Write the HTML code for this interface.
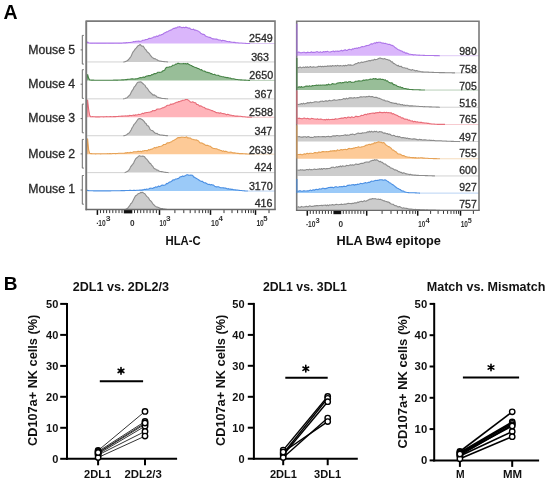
<!DOCTYPE html>
<html><head><meta charset="utf-8"><title>Figure</title>
<style>
html,body{margin:0;padding:0;background:#fff;}
body{width:550px;height:483px;overflow:hidden;font-family:"Liberation Sans", sans-serif;}
svg text{font-family:"Liberation Sans", sans-serif;}
</style></head><body>
<svg width="550" height="483" viewBox="0 0 550 483" style="display:block;filter:blur(0.3px)">
<rect width="550" height="483" fill="#fff"/>
<text x="3.6" y="19.4" font-family='Liberation Sans' font-weight="bold" font-size="19.5" fill="#000">A</text>
<path d="M86.6,43.50 L86.6,43.50 87.6,42.00 88.6,42.90 89.6,42.98 90.6,43.09 91.6,43.04 92.6,43.09 93.6,43.14 94.6,43.09 95.6,43.16 96.6,43.11 97.6,43.11 98.6,43.11 99.6,43.11 100.6,43.11 101.6,43.11 102.6,43.11 103.6,43.10 104.6,43.10 105.6,43.11 106.6,43.16 107.6,43.15 108.6,43.11 109.6,43.06 110.6,43.10 111.6,43.11 112.6,43.12 113.6,43.12 114.6,43.13 115.6,43.14 116.6,43.14 117.6,43.13 118.6,43.12 119.6,43.11 120.6,43.14 121.6,43.10 122.6,43.00 123.6,42.90 124.6,42.91 125.6,42.87 126.6,42.65 127.6,42.79 128.6,42.43 129.6,42.47 130.6,42.39 131.6,42.25 132.6,42.00 133.6,41.55 134.6,41.79 135.6,41.40 136.6,41.23 137.6,41.31 138.6,41.06 139.6,41.33 140.6,41.21 141.6,40.92 142.6,40.25 143.6,40.27 144.6,40.14 145.6,39.60 146.6,39.45 147.6,39.33 148.6,38.55 149.6,38.36 150.6,38.54 151.6,37.92 152.6,37.68 153.6,37.04 154.6,36.87 155.6,36.99 156.6,35.95 157.6,36.45 158.6,35.77 159.6,35.04 160.6,35.23 161.6,34.48 162.6,34.50 163.6,33.43 164.6,32.87 165.6,32.58 166.6,31.77 167.6,31.82 168.6,30.94 169.6,30.56 170.6,30.11 171.6,29.77 172.6,28.93 173.6,28.38 174.6,28.42 175.6,27.81 176.6,27.98 177.6,27.00 178.6,26.94 179.6,26.65 180.6,26.97 181.6,27.66 182.6,27.61 183.6,27.23 184.6,27.70 185.6,27.11 186.6,27.39 187.6,27.67 188.6,28.15 189.6,27.96 190.6,29.09 191.6,29.35 192.6,29.43 193.6,29.12 194.6,30.11 195.6,30.05 196.6,30.43 197.6,30.69 198.6,31.39 199.6,31.96 200.6,33.16 201.6,33.66 202.6,34.33 203.6,34.36 204.6,34.79 205.6,36.06 206.6,36.48 207.6,36.84 208.6,37.23 209.6,37.35 210.6,37.60 211.6,38.25 212.6,38.83 213.6,38.72 214.6,39.05 215.6,39.13 216.6,39.00 217.6,39.50 218.6,39.89 219.6,40.00 220.6,40.13 221.6,40.93 222.6,40.27 223.6,40.57 224.6,40.67 225.6,40.90 226.6,41.36 227.6,41.48 228.6,41.80 229.6,41.59 230.6,42.04 231.6,42.15 232.6,42.20 233.6,42.34 234.6,42.39 235.6,42.61 236.6,42.73 237.6,42.79 238.6,42.89 239.6,42.93 240.6,43.07 241.6,43.03 242.6,43.17 243.6,43.24 244.6,43.32 245.6,43.38 246.6,43.43 247.6,43.46 248.6,43.48 249.6,43.49 250.0,43.50 L250.0,43.50 Z" fill="#dab6fb" stroke="none"/>
<polyline points="86.6,43.50 87.6,42.00 88.6,42.90 89.6,42.98 90.6,43.09 91.6,43.04 92.6,43.09 93.6,43.14 94.6,43.09 95.6,43.16 96.6,43.11 97.6,43.11 98.6,43.11 99.6,43.11 100.6,43.11 101.6,43.11 102.6,43.11 103.6,43.10 104.6,43.10 105.6,43.11 106.6,43.16 107.6,43.15 108.6,43.11 109.6,43.06 110.6,43.10 111.6,43.11 112.6,43.12 113.6,43.12 114.6,43.13 115.6,43.14 116.6,43.14 117.6,43.13 118.6,43.12 119.6,43.11 120.6,43.14 121.6,43.10 122.6,43.00 123.6,42.90 124.6,42.91 125.6,42.87 126.6,42.65 127.6,42.79 128.6,42.43 129.6,42.47 130.6,42.39 131.6,42.25 132.6,42.00 133.6,41.55 134.6,41.79 135.6,41.40 136.6,41.23 137.6,41.31 138.6,41.06 139.6,41.33 140.6,41.21 141.6,40.92 142.6,40.25 143.6,40.27 144.6,40.14 145.6,39.60 146.6,39.45 147.6,39.33 148.6,38.55 149.6,38.36 150.6,38.54 151.6,37.92 152.6,37.68 153.6,37.04 154.6,36.87 155.6,36.99 156.6,35.95 157.6,36.45 158.6,35.77 159.6,35.04 160.6,35.23 161.6,34.48 162.6,34.50 163.6,33.43 164.6,32.87 165.6,32.58 166.6,31.77 167.6,31.82 168.6,30.94 169.6,30.56 170.6,30.11 171.6,29.77 172.6,28.93 173.6,28.38 174.6,28.42 175.6,27.81 176.6,27.98 177.6,27.00 178.6,26.94 179.6,26.65 180.6,26.97 181.6,27.66 182.6,27.61 183.6,27.23 184.6,27.70 185.6,27.11 186.6,27.39 187.6,27.67 188.6,28.15 189.6,27.96 190.6,29.09 191.6,29.35 192.6,29.43 193.6,29.12 194.6,30.11 195.6,30.05 196.6,30.43 197.6,30.69 198.6,31.39 199.6,31.96 200.6,33.16 201.6,33.66 202.6,34.33 203.6,34.36 204.6,34.79 205.6,36.06 206.6,36.48 207.6,36.84 208.6,37.23 209.6,37.35 210.6,37.60 211.6,38.25 212.6,38.83 213.6,38.72 214.6,39.05 215.6,39.13 216.6,39.00 217.6,39.50 218.6,39.89 219.6,40.00 220.6,40.13 221.6,40.93 222.6,40.27 223.6,40.57 224.6,40.67 225.6,40.90 226.6,41.36 227.6,41.48 228.6,41.80 229.6,41.59 230.6,42.04 231.6,42.15 232.6,42.20 233.6,42.34 234.6,42.39 235.6,42.61 236.6,42.73 237.6,42.79 238.6,42.89 239.6,42.93 240.6,43.07 241.6,43.03 242.6,43.17 243.6,43.24 244.6,43.32 245.6,43.38 246.6,43.43 247.6,43.46 248.6,43.48 249.6,43.49 250.0,43.50" fill="none" stroke="#a66ae6" stroke-width="1.1" stroke-linejoin="round" opacity="0.9"/>
<line x1="250.0" y1="43.50" x2="275.0" y2="43.50" stroke="#a66ae6" stroke-width="0.8" opacity="0.45"/>
<path d="M123.1,61.94 L123.1,61.94 124.1,61.89 125.1,61.68 126.1,61.23 127.1,60.80 128.1,60.00 129.1,58.94 130.1,57.60 131.1,56.28 132.1,53.84 133.1,51.82 134.1,50.67 135.1,49.13 136.1,48.16 137.1,46.91 138.1,45.73 139.1,45.24 140.1,44.52 141.1,45.47 142.1,46.21 143.1,46.09 144.1,47.55 145.1,49.10 146.1,50.02 147.1,51.81 148.1,52.53 149.1,53.32 150.1,54.81 151.1,56.15 152.1,57.39 153.1,57.93 154.1,58.70 155.1,58.67 156.1,59.43 157.1,59.74 158.1,60.44 159.1,60.84 160.1,60.95 161.1,61.18 162.1,61.39 163.1,61.56 164.1,61.64 165.1,61.73 166.1,61.81 167.1,61.88 168.1,61.94 L168.1,61.94 Z" fill="#cccccc" stroke="none"/>
<polyline points="123.1,61.94 124.1,61.89 125.1,61.68 126.1,61.23 127.1,60.80 128.1,60.00 129.1,58.94 130.1,57.60 131.1,56.28 132.1,53.84 133.1,51.82 134.1,50.67 135.1,49.13 136.1,48.16 137.1,46.91 138.1,45.73 139.1,45.24 140.1,44.52 141.1,45.47 142.1,46.21 143.1,46.09 144.1,47.55 145.1,49.10 146.1,50.02 147.1,51.81 148.1,52.53 149.1,53.32 150.1,54.81 151.1,56.15 152.1,57.39 153.1,57.93 154.1,58.70 155.1,58.67 156.1,59.43 157.1,59.74 158.1,60.44 159.1,60.84 160.1,60.95 161.1,61.18 162.1,61.39 163.1,61.56 164.1,61.64 165.1,61.73 166.1,61.81 167.1,61.88 168.1,61.94" fill="none" stroke="#828282" stroke-width="1.1" stroke-linejoin="round" opacity="0.9"/>
<line x1="87.3" y1="61.94" x2="123.1" y2="61.94" stroke="#828282" stroke-width="0.8" opacity="0.45"/>
<line x1="168.1" y1="61.94" x2="275.0" y2="61.94" stroke="#828282" stroke-width="0.8" opacity="0.45"/>
<path d="M86.6,80.39 L86.6,80.39 87.6,74.47 88.6,78.12 89.6,79.84 90.6,80.02 91.6,80.08 92.6,80.12 93.6,80.15 94.6,80.18 95.6,80.20 96.6,80.22 97.6,80.23 98.6,80.23 99.6,80.23 100.6,80.23 101.6,80.23 102.6,80.22 103.6,80.22 104.6,80.21 105.6,80.20 106.6,80.19 107.6,80.19 108.6,80.19 109.6,80.19 110.6,80.19 111.6,80.19 112.6,80.18 113.6,80.17 114.6,80.16 115.6,80.14 116.6,80.11 117.6,80.08 118.6,80.04 119.6,79.99 120.6,79.98 121.6,79.88 122.6,79.84 123.6,79.85 124.6,79.79 125.6,79.67 126.6,79.61 127.6,79.40 128.6,79.23 129.6,79.32 130.6,79.03 131.6,78.90 132.6,78.80 133.6,78.97 134.6,78.95 135.6,78.84 136.6,78.75 137.6,78.62 138.6,78.19 139.6,77.79 140.6,77.62 141.6,77.70 142.6,77.31 143.6,76.92 144.6,77.38 145.6,76.54 146.6,76.03 147.6,75.88 148.6,75.62 149.6,75.59 150.6,75.58 151.6,74.66 152.6,74.79 153.6,73.99 154.6,73.46 155.6,73.66 156.6,73.27 157.6,72.33 158.6,72.18 159.6,72.39 160.6,72.20 161.6,72.00 162.6,71.00 163.6,70.62 164.6,70.17 165.6,68.21 166.6,67.35 167.6,67.22 168.6,67.20 169.6,66.68 170.6,66.74 171.6,66.51 172.6,65.21 173.6,65.18 174.6,64.92 175.6,64.07 176.6,64.16 177.6,63.42 178.6,63.30 179.6,63.82 180.6,63.74 181.6,63.70 182.6,63.75 183.6,63.40 184.6,63.74 185.6,63.62 186.6,63.99 187.6,63.35 188.6,64.22 189.6,64.70 190.6,65.16 191.6,65.47 192.6,66.57 193.6,66.57 194.6,67.32 195.6,67.53 196.6,67.75 197.6,68.53 198.6,68.50 199.6,69.22 200.6,69.89 201.6,69.61 202.6,70.75 203.6,70.93 204.6,71.10 205.6,71.65 206.6,72.23 207.6,72.36 208.6,72.63 209.6,72.71 210.6,73.69 211.6,73.56 212.6,74.20 213.6,74.50 214.6,74.33 215.6,74.92 216.6,75.18 217.6,75.28 218.6,75.40 219.6,76.13 220.6,76.20 221.6,76.53 222.6,76.73 223.6,76.76 224.6,77.21 225.6,77.33 226.6,77.60 227.6,77.42 228.6,77.86 229.6,77.97 230.6,78.16 231.6,78.78 232.6,78.79 233.6,78.78 234.6,78.99 235.6,79.41 236.6,79.52 237.6,79.53 238.6,79.73 239.6,79.78 240.6,79.90 241.6,79.88 242.6,79.94 243.6,80.05 244.6,80.11 245.6,80.17 246.6,80.23 247.6,80.29 248.6,80.34 249.6,80.37 250.0,80.39 L250.0,80.39 Z" fill="#98be98" stroke="none"/>
<polyline points="86.6,80.39 87.6,74.47 88.6,78.12 89.6,79.84 90.6,80.02 91.6,80.08 92.6,80.12 93.6,80.15 94.6,80.18 95.6,80.20 96.6,80.22 97.6,80.23 98.6,80.23 99.6,80.23 100.6,80.23 101.6,80.23 102.6,80.22 103.6,80.22 104.6,80.21 105.6,80.20 106.6,80.19 107.6,80.19 108.6,80.19 109.6,80.19 110.6,80.19 111.6,80.19 112.6,80.18 113.6,80.17 114.6,80.16 115.6,80.14 116.6,80.11 117.6,80.08 118.6,80.04 119.6,79.99 120.6,79.98 121.6,79.88 122.6,79.84 123.6,79.85 124.6,79.79 125.6,79.67 126.6,79.61 127.6,79.40 128.6,79.23 129.6,79.32 130.6,79.03 131.6,78.90 132.6,78.80 133.6,78.97 134.6,78.95 135.6,78.84 136.6,78.75 137.6,78.62 138.6,78.19 139.6,77.79 140.6,77.62 141.6,77.70 142.6,77.31 143.6,76.92 144.6,77.38 145.6,76.54 146.6,76.03 147.6,75.88 148.6,75.62 149.6,75.59 150.6,75.58 151.6,74.66 152.6,74.79 153.6,73.99 154.6,73.46 155.6,73.66 156.6,73.27 157.6,72.33 158.6,72.18 159.6,72.39 160.6,72.20 161.6,72.00 162.6,71.00 163.6,70.62 164.6,70.17 165.6,68.21 166.6,67.35 167.6,67.22 168.6,67.20 169.6,66.68 170.6,66.74 171.6,66.51 172.6,65.21 173.6,65.18 174.6,64.92 175.6,64.07 176.6,64.16 177.6,63.42 178.6,63.30 179.6,63.82 180.6,63.74 181.6,63.70 182.6,63.75 183.6,63.40 184.6,63.74 185.6,63.62 186.6,63.99 187.6,63.35 188.6,64.22 189.6,64.70 190.6,65.16 191.6,65.47 192.6,66.57 193.6,66.57 194.6,67.32 195.6,67.53 196.6,67.75 197.6,68.53 198.6,68.50 199.6,69.22 200.6,69.89 201.6,69.61 202.6,70.75 203.6,70.93 204.6,71.10 205.6,71.65 206.6,72.23 207.6,72.36 208.6,72.63 209.6,72.71 210.6,73.69 211.6,73.56 212.6,74.20 213.6,74.50 214.6,74.33 215.6,74.92 216.6,75.18 217.6,75.28 218.6,75.40 219.6,76.13 220.6,76.20 221.6,76.53 222.6,76.73 223.6,76.76 224.6,77.21 225.6,77.33 226.6,77.60 227.6,77.42 228.6,77.86 229.6,77.97 230.6,78.16 231.6,78.78 232.6,78.79 233.6,78.78 234.6,78.99 235.6,79.41 236.6,79.52 237.6,79.53 238.6,79.73 239.6,79.78 240.6,79.90 241.6,79.88 242.6,79.94 243.6,80.05 244.6,80.11 245.6,80.17 246.6,80.23 247.6,80.29 248.6,80.34 249.6,80.37 250.0,80.39" fill="none" stroke="#3a7a3a" stroke-width="1.1" stroke-linejoin="round" opacity="0.9"/>
<line x1="250.0" y1="80.39" x2="275.0" y2="80.39" stroke="#3a7a3a" stroke-width="0.8" opacity="0.45"/>
<path d="M123.1,98.83 L123.1,98.83 124.1,98.78 125.1,98.57 126.1,98.05 127.1,97.68 128.1,96.56 129.1,95.51 130.1,94.71 131.1,92.41 132.1,90.61 133.1,89.49 134.1,87.07 135.1,86.10 136.1,84.65 137.1,82.91 138.1,82.13 139.1,82.23 140.1,81.80 141.1,82.00 142.1,82.78 143.1,83.73 144.1,84.65 145.1,85.41 146.1,87.43 147.1,88.18 148.1,89.51 149.1,91.17 150.1,92.23 151.1,93.11 152.1,94.02 153.1,95.12 154.1,94.77 155.1,95.54 156.1,95.96 157.1,97.08 158.1,97.36 159.1,97.80 160.1,97.85 161.1,98.22 162.1,98.40 163.1,98.44 164.1,98.53 165.1,98.61 166.1,98.70 167.1,98.77 168.1,98.83 L168.1,98.83 Z" fill="#cccccc" stroke="none"/>
<polyline points="123.1,98.83 124.1,98.78 125.1,98.57 126.1,98.05 127.1,97.68 128.1,96.56 129.1,95.51 130.1,94.71 131.1,92.41 132.1,90.61 133.1,89.49 134.1,87.07 135.1,86.10 136.1,84.65 137.1,82.91 138.1,82.13 139.1,82.23 140.1,81.80 141.1,82.00 142.1,82.78 143.1,83.73 144.1,84.65 145.1,85.41 146.1,87.43 147.1,88.18 148.1,89.51 149.1,91.17 150.1,92.23 151.1,93.11 152.1,94.02 153.1,95.12 154.1,94.77 155.1,95.54 156.1,95.96 157.1,97.08 158.1,97.36 159.1,97.80 160.1,97.85 161.1,98.22 162.1,98.40 163.1,98.44 164.1,98.53 165.1,98.61 166.1,98.70 167.1,98.77 168.1,98.83" fill="none" stroke="#828282" stroke-width="1.1" stroke-linejoin="round" opacity="0.9"/>
<line x1="87.3" y1="98.83" x2="123.1" y2="98.83" stroke="#828282" stroke-width="0.8" opacity="0.45"/>
<line x1="168.1" y1="98.83" x2="275.0" y2="98.83" stroke="#828282" stroke-width="0.8" opacity="0.45"/>
<path d="M86.6,117.28 L86.6,117.28 87.6,100.09 88.6,109.07 89.6,115.01 90.6,116.70 91.6,116.77 92.6,116.66 93.6,116.76 94.6,116.76 95.6,116.87 96.6,116.88 97.6,116.79 98.6,116.83 99.6,116.88 100.6,116.74 101.6,116.78 102.6,116.74 103.6,116.84 104.6,116.70 105.6,116.82 106.6,116.66 107.6,116.72 108.6,116.73 109.6,116.67 110.6,116.58 111.6,116.69 112.6,116.69 113.6,116.56 114.6,116.59 115.6,116.58 116.6,116.51 117.6,116.50 118.6,116.40 119.6,116.30 120.6,116.23 121.6,115.99 122.6,116.10 123.6,115.94 124.6,116.02 125.6,115.88 126.6,115.99 127.6,115.81 128.6,115.89 129.6,115.42 130.6,115.45 131.6,115.59 132.6,115.33 133.6,114.93 134.6,115.42 135.6,114.81 136.6,115.00 137.6,114.82 138.6,114.37 139.6,114.58 140.6,114.26 141.6,113.83 142.6,113.27 143.6,113.63 144.6,112.86 145.6,112.70 146.6,112.49 147.6,112.44 148.6,112.21 149.6,112.21 150.6,111.84 151.6,111.60 152.6,110.63 153.6,110.82 154.6,110.62 155.6,110.41 156.6,109.37 157.6,109.05 158.6,108.95 159.6,109.03 160.6,108.74 161.6,108.33 162.6,107.79 163.6,107.69 164.6,107.00 165.6,106.77 166.6,105.66 167.6,105.24 168.6,105.27 169.6,105.19 170.6,104.08 171.6,104.35 172.6,103.92 173.6,103.89 174.6,103.13 175.6,102.67 176.6,102.26 177.6,102.19 178.6,101.50 179.6,101.63 180.6,101.02 181.6,100.84 182.6,100.21 183.6,100.25 184.6,99.97 185.6,99.50 186.6,99.57 187.6,99.66 188.6,100.42 189.6,101.18 190.6,102.13 191.6,102.21 192.6,101.80 193.6,102.26 194.6,102.78 195.6,102.78 196.6,104.35 197.6,104.46 198.6,105.09 199.6,106.18 200.6,105.84 201.6,106.22 202.6,106.90 203.6,107.22 204.6,107.57 205.6,108.67 206.6,108.72 207.6,109.17 208.6,109.25 209.6,109.68 210.6,110.04 211.6,110.63 212.6,110.65 213.6,111.17 214.6,111.46 215.6,112.20 216.6,112.66 217.6,112.82 218.6,112.84 219.6,113.33 220.6,112.83 221.6,113.31 222.6,113.44 223.6,113.64 224.6,113.78 225.6,114.17 226.6,114.84 227.6,114.30 228.6,114.56 229.6,114.97 230.6,115.14 231.6,115.25 232.6,115.77 233.6,115.54 234.6,115.92 235.6,116.10 236.6,116.11 237.6,116.03 238.6,116.32 239.6,116.23 240.6,116.27 241.6,116.52 242.6,116.64 243.6,116.73 244.6,116.79 245.6,116.92 246.6,117.00 247.6,117.09 248.6,117.15 249.6,117.19 250.6,117.23 251.6,117.26 252.0,117.28 L252.0,117.28 Z" fill="#ffb4ba" stroke="none"/>
<polyline points="86.6,117.28 87.6,100.09 88.6,109.07 89.6,115.01 90.6,116.70 91.6,116.77 92.6,116.66 93.6,116.76 94.6,116.76 95.6,116.87 96.6,116.88 97.6,116.79 98.6,116.83 99.6,116.88 100.6,116.74 101.6,116.78 102.6,116.74 103.6,116.84 104.6,116.70 105.6,116.82 106.6,116.66 107.6,116.72 108.6,116.73 109.6,116.67 110.6,116.58 111.6,116.69 112.6,116.69 113.6,116.56 114.6,116.59 115.6,116.58 116.6,116.51 117.6,116.50 118.6,116.40 119.6,116.30 120.6,116.23 121.6,115.99 122.6,116.10 123.6,115.94 124.6,116.02 125.6,115.88 126.6,115.99 127.6,115.81 128.6,115.89 129.6,115.42 130.6,115.45 131.6,115.59 132.6,115.33 133.6,114.93 134.6,115.42 135.6,114.81 136.6,115.00 137.6,114.82 138.6,114.37 139.6,114.58 140.6,114.26 141.6,113.83 142.6,113.27 143.6,113.63 144.6,112.86 145.6,112.70 146.6,112.49 147.6,112.44 148.6,112.21 149.6,112.21 150.6,111.84 151.6,111.60 152.6,110.63 153.6,110.82 154.6,110.62 155.6,110.41 156.6,109.37 157.6,109.05 158.6,108.95 159.6,109.03 160.6,108.74 161.6,108.33 162.6,107.79 163.6,107.69 164.6,107.00 165.6,106.77 166.6,105.66 167.6,105.24 168.6,105.27 169.6,105.19 170.6,104.08 171.6,104.35 172.6,103.92 173.6,103.89 174.6,103.13 175.6,102.67 176.6,102.26 177.6,102.19 178.6,101.50 179.6,101.63 180.6,101.02 181.6,100.84 182.6,100.21 183.6,100.25 184.6,99.97 185.6,99.50 186.6,99.57 187.6,99.66 188.6,100.42 189.6,101.18 190.6,102.13 191.6,102.21 192.6,101.80 193.6,102.26 194.6,102.78 195.6,102.78 196.6,104.35 197.6,104.46 198.6,105.09 199.6,106.18 200.6,105.84 201.6,106.22 202.6,106.90 203.6,107.22 204.6,107.57 205.6,108.67 206.6,108.72 207.6,109.17 208.6,109.25 209.6,109.68 210.6,110.04 211.6,110.63 212.6,110.65 213.6,111.17 214.6,111.46 215.6,112.20 216.6,112.66 217.6,112.82 218.6,112.84 219.6,113.33 220.6,112.83 221.6,113.31 222.6,113.44 223.6,113.64 224.6,113.78 225.6,114.17 226.6,114.84 227.6,114.30 228.6,114.56 229.6,114.97 230.6,115.14 231.6,115.25 232.6,115.77 233.6,115.54 234.6,115.92 235.6,116.10 236.6,116.11 237.6,116.03 238.6,116.32 239.6,116.23 240.6,116.27 241.6,116.52 242.6,116.64 243.6,116.73 244.6,116.79 245.6,116.92 246.6,117.00 247.6,117.09 248.6,117.15 249.6,117.19 250.6,117.23 251.6,117.26 252.0,117.28" fill="none" stroke="#e4606e" stroke-width="1.1" stroke-linejoin="round" opacity="0.9"/>
<line x1="252.0" y1="117.28" x2="275.0" y2="117.28" stroke="#e4606e" stroke-width="0.8" opacity="0.45"/>
<path d="M123.1,135.72 L123.1,135.72 124.1,135.66 125.1,135.45 126.1,134.97 127.1,134.37 128.1,133.50 129.1,132.98 130.1,131.59 131.1,129.92 132.1,127.72 133.1,126.29 134.1,124.34 135.1,123.38 136.1,121.97 137.1,120.52 138.1,119.18 139.1,118.59 140.1,118.45 141.1,119.12 142.1,119.49 143.1,120.35 144.1,121.39 145.1,122.91 146.1,123.45 147.1,125.42 148.1,125.86 149.1,127.14 150.1,129.43 151.1,130.16 152.1,130.60 153.1,131.10 154.1,132.20 155.1,132.95 156.1,133.48 157.1,133.41 158.1,134.28 159.1,134.47 160.1,134.93 161.1,135.06 162.1,135.15 163.1,135.33 164.1,135.42 165.1,135.50 166.1,135.59 167.1,135.66 168.1,135.72 L168.1,135.72 Z" fill="#cccccc" stroke="none"/>
<polyline points="123.1,135.72 124.1,135.66 125.1,135.45 126.1,134.97 127.1,134.37 128.1,133.50 129.1,132.98 130.1,131.59 131.1,129.92 132.1,127.72 133.1,126.29 134.1,124.34 135.1,123.38 136.1,121.97 137.1,120.52 138.1,119.18 139.1,118.59 140.1,118.45 141.1,119.12 142.1,119.49 143.1,120.35 144.1,121.39 145.1,122.91 146.1,123.45 147.1,125.42 148.1,125.86 149.1,127.14 150.1,129.43 151.1,130.16 152.1,130.60 153.1,131.10 154.1,132.20 155.1,132.95 156.1,133.48 157.1,133.41 158.1,134.28 159.1,134.47 160.1,134.93 161.1,135.06 162.1,135.15 163.1,135.33 164.1,135.42 165.1,135.50 166.1,135.59 167.1,135.66 168.1,135.72" fill="none" stroke="#828282" stroke-width="1.1" stroke-linejoin="round" opacity="0.9"/>
<line x1="87.3" y1="135.72" x2="123.1" y2="135.72" stroke="#828282" stroke-width="0.8" opacity="0.45"/>
<line x1="168.1" y1="135.72" x2="275.0" y2="135.72" stroke="#828282" stroke-width="0.8" opacity="0.45"/>
<path d="M86.6,154.17 L86.6,154.17 87.6,138.72 88.6,149.56 89.6,153.13 90.6,153.61 91.6,153.65 92.6,153.75 93.6,153.68 94.6,153.75 95.6,153.83 96.6,153.77 97.6,153.77 98.6,153.77 99.6,153.77 100.6,153.83 101.6,153.76 102.6,153.75 103.6,153.77 104.6,153.78 105.6,153.74 106.6,153.73 107.6,153.64 108.6,153.76 109.6,153.63 110.6,153.60 111.6,153.71 112.6,153.55 113.6,153.57 114.6,153.50 115.6,153.58 116.6,153.53 117.6,153.48 118.6,153.27 119.6,153.31 120.6,153.31 121.6,153.22 122.6,153.20 123.6,153.21 124.6,153.12 125.6,152.73 126.6,152.88 127.6,152.47 128.6,152.72 129.6,152.62 130.6,152.38 131.6,152.48 132.6,152.28 133.6,151.79 134.6,151.74 135.6,151.70 136.6,151.73 137.6,151.40 138.6,151.25 139.6,151.46 140.6,151.18 141.6,151.70 142.6,150.89 143.6,151.03 144.6,150.57 145.6,150.49 146.6,150.64 147.6,150.63 148.6,149.49 149.6,150.00 150.6,149.35 151.6,149.16 152.6,148.89 153.6,148.13 154.6,147.57 155.6,147.96 156.6,147.23 157.6,147.24 158.6,146.64 159.6,146.45 160.6,146.31 161.6,145.95 162.6,145.53 163.6,144.46 164.6,144.48 165.6,144.36 166.6,143.26 167.6,142.74 168.6,142.83 169.6,142.64 170.6,142.07 171.6,141.63 172.6,140.83 173.6,140.54 174.6,139.87 175.6,139.36 176.6,138.57 177.6,137.80 178.6,137.55 179.6,137.60 180.6,137.41 181.6,137.17 182.6,137.23 183.6,137.24 184.6,137.53 185.6,137.39 186.6,136.85 187.6,137.94 188.6,137.86 189.6,138.06 190.6,138.14 191.6,139.08 192.6,139.29 193.6,139.59 194.6,139.74 195.6,140.03 196.6,139.91 197.6,140.49 198.6,141.01 199.6,142.45 200.6,143.02 201.6,142.91 202.6,143.22 203.6,144.09 204.6,144.39 205.6,145.38 206.6,145.38 207.6,145.22 208.6,145.71 209.6,146.07 210.6,146.36 211.6,147.50 212.6,148.06 213.6,148.43 214.6,148.47 215.6,148.69 216.6,148.79 217.6,149.34 218.6,149.72 219.6,149.88 220.6,150.46 221.6,150.61 222.6,151.36 223.6,150.84 224.6,151.58 225.6,151.14 226.6,151.56 227.6,151.98 228.6,152.24 229.6,152.27 230.6,152.15 231.6,152.26 232.6,152.75 233.6,152.91 234.6,152.86 235.6,153.00 236.6,153.22 237.6,153.40 238.6,153.42 239.6,153.64 240.6,153.65 241.6,153.67 242.6,153.64 243.6,153.73 244.6,153.79 245.6,153.84 246.6,153.91 247.6,153.98 248.6,154.06 249.6,154.14 250.0,154.17 L250.0,154.17 Z" fill="#fdca97" stroke="none"/>
<polyline points="86.6,154.17 87.6,138.72 88.6,149.56 89.6,153.13 90.6,153.61 91.6,153.65 92.6,153.75 93.6,153.68 94.6,153.75 95.6,153.83 96.6,153.77 97.6,153.77 98.6,153.77 99.6,153.77 100.6,153.83 101.6,153.76 102.6,153.75 103.6,153.77 104.6,153.78 105.6,153.74 106.6,153.73 107.6,153.64 108.6,153.76 109.6,153.63 110.6,153.60 111.6,153.71 112.6,153.55 113.6,153.57 114.6,153.50 115.6,153.58 116.6,153.53 117.6,153.48 118.6,153.27 119.6,153.31 120.6,153.31 121.6,153.22 122.6,153.20 123.6,153.21 124.6,153.12 125.6,152.73 126.6,152.88 127.6,152.47 128.6,152.72 129.6,152.62 130.6,152.38 131.6,152.48 132.6,152.28 133.6,151.79 134.6,151.74 135.6,151.70 136.6,151.73 137.6,151.40 138.6,151.25 139.6,151.46 140.6,151.18 141.6,151.70 142.6,150.89 143.6,151.03 144.6,150.57 145.6,150.49 146.6,150.64 147.6,150.63 148.6,149.49 149.6,150.00 150.6,149.35 151.6,149.16 152.6,148.89 153.6,148.13 154.6,147.57 155.6,147.96 156.6,147.23 157.6,147.24 158.6,146.64 159.6,146.45 160.6,146.31 161.6,145.95 162.6,145.53 163.6,144.46 164.6,144.48 165.6,144.36 166.6,143.26 167.6,142.74 168.6,142.83 169.6,142.64 170.6,142.07 171.6,141.63 172.6,140.83 173.6,140.54 174.6,139.87 175.6,139.36 176.6,138.57 177.6,137.80 178.6,137.55 179.6,137.60 180.6,137.41 181.6,137.17 182.6,137.23 183.6,137.24 184.6,137.53 185.6,137.39 186.6,136.85 187.6,137.94 188.6,137.86 189.6,138.06 190.6,138.14 191.6,139.08 192.6,139.29 193.6,139.59 194.6,139.74 195.6,140.03 196.6,139.91 197.6,140.49 198.6,141.01 199.6,142.45 200.6,143.02 201.6,142.91 202.6,143.22 203.6,144.09 204.6,144.39 205.6,145.38 206.6,145.38 207.6,145.22 208.6,145.71 209.6,146.07 210.6,146.36 211.6,147.50 212.6,148.06 213.6,148.43 214.6,148.47 215.6,148.69 216.6,148.79 217.6,149.34 218.6,149.72 219.6,149.88 220.6,150.46 221.6,150.61 222.6,151.36 223.6,150.84 224.6,151.58 225.6,151.14 226.6,151.56 227.6,151.98 228.6,152.24 229.6,152.27 230.6,152.15 231.6,152.26 232.6,152.75 233.6,152.91 234.6,152.86 235.6,153.00 236.6,153.22 237.6,153.40 238.6,153.42 239.6,153.64 240.6,153.65 241.6,153.67 242.6,153.64 243.6,153.73 244.6,153.79 245.6,153.84 246.6,153.91 247.6,153.98 248.6,154.06 249.6,154.14 250.0,154.17" fill="none" stroke="#e39a48" stroke-width="1.1" stroke-linejoin="round" opacity="0.9"/>
<line x1="250.0" y1="154.17" x2="275.0" y2="154.17" stroke="#e39a48" stroke-width="0.8" opacity="0.45"/>
<path d="M124.6,172.61 L124.6,172.61 125.6,172.32 126.6,171.85 127.6,171.21 128.6,170.40 129.6,169.15 130.6,166.89 131.6,165.59 132.6,164.43 133.6,163.08 134.6,160.79 135.6,158.99 136.6,157.95 137.6,157.13 138.6,156.15 139.6,155.63 140.6,156.18 141.6,156.29 142.6,156.03 143.6,156.27 144.6,156.82 145.6,158.34 146.6,158.98 147.6,160.29 148.6,161.69 149.6,163.13 150.6,163.51 151.6,165.35 152.6,166.07 153.6,167.79 154.6,168.73 155.6,168.96 156.6,170.04 157.6,170.01 158.6,170.75 159.6,171.22 160.6,171.45 161.6,171.61 162.6,171.78 163.6,171.93 164.6,172.24 165.6,172.34 166.6,172.47 167.6,172.55 168.6,172.61 L168.6,172.61 Z" fill="#cccccc" stroke="none"/>
<polyline points="124.6,172.61 125.6,172.32 126.6,171.85 127.6,171.21 128.6,170.40 129.6,169.15 130.6,166.89 131.6,165.59 132.6,164.43 133.6,163.08 134.6,160.79 135.6,158.99 136.6,157.95 137.6,157.13 138.6,156.15 139.6,155.63 140.6,156.18 141.6,156.29 142.6,156.03 143.6,156.27 144.6,156.82 145.6,158.34 146.6,158.98 147.6,160.29 148.6,161.69 149.6,163.13 150.6,163.51 151.6,165.35 152.6,166.07 153.6,167.79 154.6,168.73 155.6,168.96 156.6,170.04 157.6,170.01 158.6,170.75 159.6,171.22 160.6,171.45 161.6,171.61 162.6,171.78 163.6,171.93 164.6,172.24 165.6,172.34 166.6,172.47 167.6,172.55 168.6,172.61" fill="none" stroke="#828282" stroke-width="1.1" stroke-linejoin="round" opacity="0.9"/>
<line x1="87.3" y1="172.61" x2="124.6" y2="172.61" stroke="#828282" stroke-width="0.8" opacity="0.45"/>
<line x1="168.6" y1="172.61" x2="275.0" y2="172.61" stroke="#828282" stroke-width="0.8" opacity="0.45"/>
<path d="M86.6,191.06 L86.6,191.06 87.6,190.19 88.6,190.65 89.6,190.69 90.6,190.75 91.6,190.79 92.6,190.82 93.6,190.84 94.6,190.85 95.6,190.85 96.6,190.85 97.6,190.85 98.6,190.85 99.6,190.85 100.6,190.86 101.6,190.86 102.6,190.87 103.6,190.87 104.6,190.87 105.6,190.86 106.6,190.86 107.6,190.85 108.6,190.85 109.6,190.84 110.6,190.83 111.6,190.82 112.6,190.81 113.6,190.80 114.6,190.79 115.6,190.78 116.6,190.76 117.6,190.75 118.6,190.73 119.6,190.70 120.6,190.67 121.6,190.57 122.6,190.66 123.6,190.65 124.6,190.63 125.6,190.56 126.6,190.45 127.6,190.45 128.6,190.47 129.6,190.40 130.6,190.40 131.6,190.49 132.6,190.50 133.6,190.32 134.6,190.33 135.6,190.46 136.6,190.27 137.6,190.29 138.6,190.23 139.6,190.17 140.6,190.13 141.6,190.10 142.6,189.89 143.6,189.74 144.6,189.30 145.6,189.59 146.6,188.94 147.6,189.24 148.6,188.96 149.6,188.40 150.6,188.17 151.6,188.29 152.6,188.44 153.6,187.78 154.6,187.64 155.6,186.84 156.6,187.30 157.6,186.86 158.6,186.05 159.6,186.62 160.6,185.94 161.6,185.22 162.6,184.95 163.6,185.36 164.6,185.03 165.6,184.64 166.6,183.41 167.6,183.66 168.6,182.71 169.6,181.98 170.6,181.88 171.6,181.29 172.6,180.05 173.6,179.91 174.6,179.83 175.6,178.96 176.6,178.95 177.6,178.60 178.6,178.47 179.6,177.31 180.6,176.74 181.6,176.62 182.6,175.93 183.6,176.51 184.6,176.01 185.6,175.52 186.6,174.83 187.6,174.67 188.6,175.13 189.6,175.20 190.6,175.04 191.6,175.17 192.6,175.22 193.6,176.87 194.6,177.27 195.6,178.07 196.6,178.56 197.6,179.11 198.6,179.73 199.6,180.47 200.6,180.95 201.6,181.37 202.6,181.40 203.6,182.54 204.6,182.84 205.6,182.68 206.6,183.57 207.6,184.12 208.6,184.51 209.6,184.34 210.6,184.90 211.6,184.57 212.6,184.97 213.6,185.16 214.6,186.17 215.6,186.62 216.6,186.87 217.6,186.72 218.6,186.75 219.6,187.24 220.6,187.68 221.6,187.71 222.6,187.71 223.6,187.85 224.6,187.97 225.6,188.08 226.6,188.42 227.6,189.02 228.6,188.63 229.6,189.16 230.6,189.11 231.6,189.36 232.6,189.28 233.6,189.69 234.6,189.79 235.6,189.91 236.6,190.07 237.6,189.94 238.6,190.18 239.6,190.37 240.6,190.48 241.6,190.50 242.6,190.69 243.6,190.79 244.6,190.87 245.6,190.93 246.6,190.98 247.6,191.03 248.0,191.06 L248.0,191.06 Z" fill="#9bcaf8" stroke="none"/>
<polyline points="86.6,191.06 87.6,190.19 88.6,190.65 89.6,190.69 90.6,190.75 91.6,190.79 92.6,190.82 93.6,190.84 94.6,190.85 95.6,190.85 96.6,190.85 97.6,190.85 98.6,190.85 99.6,190.85 100.6,190.86 101.6,190.86 102.6,190.87 103.6,190.87 104.6,190.87 105.6,190.86 106.6,190.86 107.6,190.85 108.6,190.85 109.6,190.84 110.6,190.83 111.6,190.82 112.6,190.81 113.6,190.80 114.6,190.79 115.6,190.78 116.6,190.76 117.6,190.75 118.6,190.73 119.6,190.70 120.6,190.67 121.6,190.57 122.6,190.66 123.6,190.65 124.6,190.63 125.6,190.56 126.6,190.45 127.6,190.45 128.6,190.47 129.6,190.40 130.6,190.40 131.6,190.49 132.6,190.50 133.6,190.32 134.6,190.33 135.6,190.46 136.6,190.27 137.6,190.29 138.6,190.23 139.6,190.17 140.6,190.13 141.6,190.10 142.6,189.89 143.6,189.74 144.6,189.30 145.6,189.59 146.6,188.94 147.6,189.24 148.6,188.96 149.6,188.40 150.6,188.17 151.6,188.29 152.6,188.44 153.6,187.78 154.6,187.64 155.6,186.84 156.6,187.30 157.6,186.86 158.6,186.05 159.6,186.62 160.6,185.94 161.6,185.22 162.6,184.95 163.6,185.36 164.6,185.03 165.6,184.64 166.6,183.41 167.6,183.66 168.6,182.71 169.6,181.98 170.6,181.88 171.6,181.29 172.6,180.05 173.6,179.91 174.6,179.83 175.6,178.96 176.6,178.95 177.6,178.60 178.6,178.47 179.6,177.31 180.6,176.74 181.6,176.62 182.6,175.93 183.6,176.51 184.6,176.01 185.6,175.52 186.6,174.83 187.6,174.67 188.6,175.13 189.6,175.20 190.6,175.04 191.6,175.17 192.6,175.22 193.6,176.87 194.6,177.27 195.6,178.07 196.6,178.56 197.6,179.11 198.6,179.73 199.6,180.47 200.6,180.95 201.6,181.37 202.6,181.40 203.6,182.54 204.6,182.84 205.6,182.68 206.6,183.57 207.6,184.12 208.6,184.51 209.6,184.34 210.6,184.90 211.6,184.57 212.6,184.97 213.6,185.16 214.6,186.17 215.6,186.62 216.6,186.87 217.6,186.72 218.6,186.75 219.6,187.24 220.6,187.68 221.6,187.71 222.6,187.71 223.6,187.85 224.6,187.97 225.6,188.08 226.6,188.42 227.6,189.02 228.6,188.63 229.6,189.16 230.6,189.11 231.6,189.36 232.6,189.28 233.6,189.69 234.6,189.79 235.6,189.91 236.6,190.07 237.6,189.94 238.6,190.18 239.6,190.37 240.6,190.48 241.6,190.50 242.6,190.69 243.6,190.79 244.6,190.87 245.6,190.93 246.6,190.98 247.6,191.03 248.0,191.06" fill="none" stroke="#3d86e0" stroke-width="1.1" stroke-linejoin="round" opacity="0.9"/>
<line x1="248.0" y1="191.06" x2="275.0" y2="191.06" stroke="#3d86e0" stroke-width="0.8" opacity="0.45"/>
<path d="M124.7,209.50 L124.7,209.50 125.7,209.21 126.7,208.82 127.7,208.21 128.7,206.82 129.7,205.64 130.7,203.75 131.7,203.08 132.7,201.16 133.7,199.17 134.7,197.34 135.7,195.64 136.7,195.22 137.7,193.98 138.7,193.58 139.7,193.26 140.7,192.33 141.7,192.63 142.7,192.33 143.7,193.21 144.7,193.52 145.7,194.98 146.7,196.41 147.7,197.14 148.7,198.14 149.7,200.12 150.7,200.77 151.7,201.93 152.7,203.56 153.7,204.54 154.7,205.70 155.7,206.41 156.7,206.96 157.7,207.16 158.7,207.54 159.7,208.11 160.7,208.43 161.7,208.53 162.7,208.66 163.7,208.97 164.7,209.10 165.7,209.23 166.7,209.36 167.7,209.44 168.7,209.50 L168.7,209.50 Z" fill="#cccccc" stroke="none"/>
<polyline points="124.7,209.50 125.7,209.21 126.7,208.82 127.7,208.21 128.7,206.82 129.7,205.64 130.7,203.75 131.7,203.08 132.7,201.16 133.7,199.17 134.7,197.34 135.7,195.64 136.7,195.22 137.7,193.98 138.7,193.58 139.7,193.26 140.7,192.33 141.7,192.63 142.7,192.33 143.7,193.21 144.7,193.52 145.7,194.98 146.7,196.41 147.7,197.14 148.7,198.14 149.7,200.12 150.7,200.77 151.7,201.93 152.7,203.56 153.7,204.54 154.7,205.70 155.7,206.41 156.7,206.96 157.7,207.16 158.7,207.54 159.7,208.11 160.7,208.43 161.7,208.53 162.7,208.66 163.7,208.97 164.7,209.10 165.7,209.23 166.7,209.36 167.7,209.44 168.7,209.50" fill="none" stroke="#828282" stroke-width="1.1" stroke-linejoin="round" opacity="0.9"/>
<line x1="87.3" y1="209.50" x2="124.7" y2="209.50" stroke="#828282" stroke-width="0.8" opacity="0.45"/>
<line x1="168.7" y1="209.50" x2="275.0" y2="209.50" stroke="#828282" stroke-width="0.8" opacity="0.45"/>
<text x="272.8" y="42.0" text-anchor="end" font-family="Liberation Sans" font-size="10.7" fill="#2a2a2a" stroke="#2a2a2a" stroke-width="0.3">2549</text>
<text x="269.0" y="60.6" text-anchor="end" font-family="Liberation Sans" font-size="10.7" fill="#2a2a2a" stroke="#2a2a2a" stroke-width="0.3">363</text>
<text x="273.1" y="78.9" text-anchor="end" font-family="Liberation Sans" font-size="10.7" fill="#2a2a2a" stroke="#2a2a2a" stroke-width="0.3">2650</text>
<text x="272.4" y="98.4" text-anchor="end" font-family="Liberation Sans" font-size="10.7" fill="#2a2a2a" stroke="#2a2a2a" stroke-width="0.3">367</text>
<text x="272.9" y="115.6" text-anchor="end" font-family="Liberation Sans" font-size="10.7" fill="#2a2a2a" stroke="#2a2a2a" stroke-width="0.3">2588</text>
<text x="272.3" y="134.6" text-anchor="end" font-family="Liberation Sans" font-size="10.7" fill="#2a2a2a" stroke="#2a2a2a" stroke-width="0.3">347</text>
<text x="272.7" y="153.7" text-anchor="end" font-family="Liberation Sans" font-size="10.7" fill="#2a2a2a" stroke="#2a2a2a" stroke-width="0.3">2639</text>
<text x="272.3" y="170.6" text-anchor="end" font-family="Liberation Sans" font-size="10.7" fill="#2a2a2a" stroke="#2a2a2a" stroke-width="0.3">424</text>
<text x="272.7" y="189.5" text-anchor="end" font-family="Liberation Sans" font-size="10.7" fill="#2a2a2a" stroke="#2a2a2a" stroke-width="0.3">3170</text>
<text x="272.5" y="206.9" text-anchor="end" font-family="Liberation Sans" font-size="10.7" fill="#2a2a2a" stroke="#2a2a2a" stroke-width="0.3">416</text>
<path d="M86.3,209.5 V21.1 H275.0 V209.5" fill="none" stroke="#7a7a7a" stroke-width="1.6"/>
<line x1="86.3" y1="21.1" x2="86.3" y2="210.3" stroke="#7a7a7a" stroke-width="1.6"/>
<line x1="85.5" y1="209.5" x2="275.8" y2="209.5" stroke="#6a6a6a" stroke-width="1.3"/>
<text x="28.2" y="53.8" font-family="Liberation Sans" font-size="12" fill="#2a2a2a" stroke="#2a2a2a" stroke-width="0.3" textLength="47" lengthAdjust="spacingAndGlyphs">Mouse 5</text>
<path d="M83.8,35.4 H82.3 V64.1 H83.8 M82.3,49.9 H80.6" fill="none" stroke="#6a6a6a" stroke-width="1"/>
<text x="28.2" y="87.8" font-family="Liberation Sans" font-size="12" fill="#2a2a2a" stroke="#2a2a2a" stroke-width="0.3" textLength="47" lengthAdjust="spacingAndGlyphs">Mouse 4</text>
<path d="M83.8,69.7 H82.3 V98.4 H83.8 M82.3,84.2 H80.6" fill="none" stroke="#6a6a6a" stroke-width="1"/>
<text x="28.2" y="122.0" font-family="Liberation Sans" font-size="12" fill="#2a2a2a" stroke="#2a2a2a" stroke-width="0.3" textLength="47" lengthAdjust="spacingAndGlyphs">Mouse 3</text>
<path d="M83.8,104.1 H82.3 V132.8 H83.8 M82.3,118.6 H80.6" fill="none" stroke="#6a6a6a" stroke-width="1"/>
<text x="28.2" y="157.8" font-family="Liberation Sans" font-size="12" fill="#2a2a2a" stroke="#2a2a2a" stroke-width="0.3" textLength="47" lengthAdjust="spacingAndGlyphs">Mouse 2</text>
<path d="M83.8,139.4 H82.3 V168.1 H83.8 M82.3,153.9 H80.6" fill="none" stroke="#6a6a6a" stroke-width="1"/>
<text x="28.2" y="192.8" font-family="Liberation Sans" font-size="12" fill="#2a2a2a" stroke="#2a2a2a" stroke-width="0.3" textLength="47" lengthAdjust="spacingAndGlyphs">Mouse 1</text>
<path d="M83.8,175.5 H82.3 V204.2 H83.8 M82.3,190.0 H80.6" fill="none" stroke="#6a6a6a" stroke-width="1"/>
<line x1="97.4" y1="210.1" x2="97.4" y2="214.9" stroke="#111" stroke-width="1.5"/>
<line x1="159.5" y1="210.1" x2="159.5" y2="214.9" stroke="#111" stroke-width="1.5"/>
<line x1="210.5" y1="210.1" x2="210.5" y2="214.9" stroke="#111" stroke-width="1.5"/>
<line x1="255.5" y1="210.1" x2="255.5" y2="214.9" stroke="#111" stroke-width="1.5"/>
<line x1="100.5" y1="210.1" x2="100.5" y2="213.1" stroke="#222" stroke-width="0.9"/>
<line x1="103.6" y1="210.1" x2="103.6" y2="213.1" stroke="#222" stroke-width="0.9"/>
<line x1="134.5" y1="210.1" x2="134.5" y2="213.1" stroke="#222" stroke-width="0.9"/>
<line x1="106.6" y1="210.1" x2="106.6" y2="213.1" stroke="#222" stroke-width="0.9"/>
<line x1="137.6" y1="210.1" x2="137.6" y2="213.1" stroke="#222" stroke-width="0.9"/>
<line x1="109.7" y1="210.1" x2="109.7" y2="213.1" stroke="#222" stroke-width="0.9"/>
<line x1="140.7" y1="210.1" x2="140.7" y2="213.1" stroke="#222" stroke-width="0.9"/>
<line x1="112.8" y1="210.1" x2="112.8" y2="213.1" stroke="#222" stroke-width="0.9"/>
<line x1="143.8" y1="210.1" x2="143.8" y2="213.1" stroke="#222" stroke-width="0.9"/>
<line x1="115.9" y1="210.1" x2="115.9" y2="213.1" stroke="#222" stroke-width="0.9"/>
<line x1="147.0" y1="210.1" x2="147.0" y2="213.1" stroke="#222" stroke-width="0.9"/>
<line x1="119.0" y1="210.1" x2="119.0" y2="213.1" stroke="#222" stroke-width="0.9"/>
<line x1="150.1" y1="210.1" x2="150.1" y2="213.1" stroke="#222" stroke-width="0.9"/>
<line x1="122.0" y1="210.1" x2="122.0" y2="213.1" stroke="#222" stroke-width="0.9"/>
<line x1="153.2" y1="210.1" x2="153.2" y2="213.1" stroke="#222" stroke-width="0.9"/>
<line x1="156.4" y1="210.1" x2="156.4" y2="213.1" stroke="#222" stroke-width="0.9"/>
<line x1="174.9" y1="210.1" x2="174.9" y2="213.1" stroke="#222" stroke-width="0.9"/>
<line x1="183.8" y1="210.1" x2="183.8" y2="213.1" stroke="#222" stroke-width="0.9"/>
<line x1="190.2" y1="210.1" x2="190.2" y2="213.1" stroke="#222" stroke-width="0.9"/>
<line x1="195.1" y1="210.1" x2="195.1" y2="213.1" stroke="#222" stroke-width="0.9"/>
<line x1="199.2" y1="210.1" x2="199.2" y2="213.1" stroke="#222" stroke-width="0.9"/>
<line x1="202.6" y1="210.1" x2="202.6" y2="213.1" stroke="#222" stroke-width="0.9"/>
<line x1="205.6" y1="210.1" x2="205.6" y2="213.1" stroke="#222" stroke-width="0.9"/>
<line x1="208.2" y1="210.1" x2="208.2" y2="213.1" stroke="#222" stroke-width="0.9"/>
<line x1="224.0" y1="210.1" x2="224.0" y2="213.1" stroke="#222" stroke-width="0.9"/>
<line x1="232.0" y1="210.1" x2="232.0" y2="213.1" stroke="#222" stroke-width="0.9"/>
<line x1="237.6" y1="210.1" x2="237.6" y2="213.1" stroke="#222" stroke-width="0.9"/>
<line x1="242.0" y1="210.1" x2="242.0" y2="213.1" stroke="#222" stroke-width="0.9"/>
<line x1="245.5" y1="210.1" x2="245.5" y2="213.1" stroke="#222" stroke-width="0.9"/>
<line x1="248.5" y1="210.1" x2="248.5" y2="213.1" stroke="#222" stroke-width="0.9"/>
<line x1="251.1" y1="210.1" x2="251.1" y2="213.1" stroke="#222" stroke-width="0.9"/>
<line x1="253.4" y1="210.1" x2="253.4" y2="213.1" stroke="#222" stroke-width="0.9"/>
<line x1="269.0" y1="210.1" x2="269.0" y2="213.1" stroke="#222" stroke-width="0.9"/>
<rect x="123.8" y="210.1" width="8.5" height="3.3" fill="#111"/>
<line x1="96.8" y1="223.4" x2="98.0" y2="223.4" stroke="#333" stroke-width="1.1"/>
<text x="98.3" y="225.8" font-family="Liberation Sans" font-weight="bold" font-size="8.3" fill="#333" textLength="7.4" lengthAdjust="spacingAndGlyphs">10</text>
<text x="105.7" y="220.9" font-family="Liberation Sans" font-weight="bold" font-size="7.7" fill="#333" textLength="4.8" lengthAdjust="spacingAndGlyphs">3</text>
<text x="129.9" y="225.8" font-family="Liberation Sans" font-weight="bold" font-size="8.3" fill="#333" textLength="4.6" lengthAdjust="spacingAndGlyphs">0</text>
<text x="159.5" y="225.8" font-family="Liberation Sans" font-weight="bold" font-size="8.3" fill="#333" textLength="6.8" lengthAdjust="spacingAndGlyphs">10</text>
<text x="165.9" y="220.9" font-family="Liberation Sans" font-weight="bold" font-size="7.7" fill="#333" textLength="4.6" lengthAdjust="spacingAndGlyphs">3</text>
<text x="211.1" y="225.8" font-family="Liberation Sans" font-weight="bold" font-size="8.3" fill="#333" textLength="7.8" lengthAdjust="spacingAndGlyphs">10</text>
<text x="218.5" y="220.9" font-family="Liberation Sans" font-weight="bold" font-size="7.7" fill="#333" textLength="4.4" lengthAdjust="spacingAndGlyphs">4</text>
<text x="256.4" y="225.8" font-family="Liberation Sans" font-weight="bold" font-size="8.3" fill="#333" textLength="7.4" lengthAdjust="spacingAndGlyphs">10</text>
<text x="263.3" y="220.9" font-family="Liberation Sans" font-weight="bold" font-size="7.7" fill="#333" textLength="4.3" lengthAdjust="spacingAndGlyphs">5</text>
<text x="165.5" y="245.4" font-family="Liberation Sans" font-weight="bold" font-size="12" fill="#111" textLength="35.2" lengthAdjust="spacingAndGlyphs">HLA-C</text>
<path d="M297.4,55.70 L297.4,52.60 298.4,52.01 299.4,52.26 300.4,52.75 301.4,52.71 302.4,52.43 303.4,52.28 304.4,52.19 305.4,52.74 306.4,52.67 307.4,52.14 308.4,52.41 309.4,52.53 310.4,52.49 311.4,51.83 312.4,52.45 313.4,52.17 314.4,52.35 315.4,52.27 316.4,51.79 317.4,51.63 318.4,52.23 319.4,52.36 320.4,51.79 321.4,52.28 322.4,52.44 323.4,51.50 324.4,51.93 325.4,51.48 326.4,51.85 327.4,51.32 328.4,51.70 329.4,51.94 330.4,52.04 331.4,51.45 332.4,51.30 333.4,50.97 334.4,51.73 335.4,51.13 336.4,51.31 337.4,51.10 338.4,51.38 339.4,51.15 340.4,50.82 341.4,50.31 342.4,51.03 343.4,50.53 344.4,50.11 345.4,49.82 346.4,50.46 347.4,50.40 348.4,49.44 349.4,49.25 350.4,49.59 351.4,49.84 352.4,48.79 353.4,49.13 354.4,48.41 355.4,48.47 356.4,48.03 357.4,48.45 358.4,47.57 359.4,47.87 360.4,47.42 361.4,46.70 362.4,46.44 363.4,46.81 364.4,46.49 365.4,46.02 366.4,45.63 367.4,45.47 368.4,45.42 369.4,44.97 370.4,44.17 371.4,43.67 372.4,44.20 373.4,43.37 374.4,42.87 375.4,43.32 376.4,42.26 377.4,42.80 378.4,42.25 379.4,42.31 380.4,42.32 381.4,42.89 382.4,43.08 383.4,43.14 384.4,43.47 385.4,43.39 386.4,43.75 387.4,43.92 388.4,44.55 389.4,44.22 390.4,44.71 391.4,45.41 392.4,45.41 393.4,45.97 394.4,46.91 395.4,47.82 396.4,48.17 397.4,49.15 398.4,49.70 399.4,49.92 400.4,50.75 401.4,50.90 402.4,51.32 403.4,52.27 404.4,52.13 405.4,53.12 406.4,52.91 407.4,53.27 408.4,53.80 409.4,54.32 410.4,54.30 411.4,54.54 412.4,54.48 413.4,54.88 414.4,54.76 415.4,54.82 416.4,54.95 417.4,54.99 418.4,55.17 419.4,55.06 420.4,55.20 421.4,55.18 422.4,55.31 423.4,55.37 424.4,55.41 425.4,55.43 426.4,55.45 427.4,55.46 428.4,55.47 429.4,55.49 430.4,55.51 431.4,55.53 432.4,55.55 433.4,55.57 434.4,55.59 435.4,55.61 436.4,55.63 437.4,55.65 438.4,55.67 439.4,55.69 440.0,55.70 L440.0,55.70 Z" fill="#dab6fb" stroke="none"/>
<polyline points="297.4,52.60 298.4,52.01 299.4,52.26 300.4,52.75 301.4,52.71 302.4,52.43 303.4,52.28 304.4,52.19 305.4,52.74 306.4,52.67 307.4,52.14 308.4,52.41 309.4,52.53 310.4,52.49 311.4,51.83 312.4,52.45 313.4,52.17 314.4,52.35 315.4,52.27 316.4,51.79 317.4,51.63 318.4,52.23 319.4,52.36 320.4,51.79 321.4,52.28 322.4,52.44 323.4,51.50 324.4,51.93 325.4,51.48 326.4,51.85 327.4,51.32 328.4,51.70 329.4,51.94 330.4,52.04 331.4,51.45 332.4,51.30 333.4,50.97 334.4,51.73 335.4,51.13 336.4,51.31 337.4,51.10 338.4,51.38 339.4,51.15 340.4,50.82 341.4,50.31 342.4,51.03 343.4,50.53 344.4,50.11 345.4,49.82 346.4,50.46 347.4,50.40 348.4,49.44 349.4,49.25 350.4,49.59 351.4,49.84 352.4,48.79 353.4,49.13 354.4,48.41 355.4,48.47 356.4,48.03 357.4,48.45 358.4,47.57 359.4,47.87 360.4,47.42 361.4,46.70 362.4,46.44 363.4,46.81 364.4,46.49 365.4,46.02 366.4,45.63 367.4,45.47 368.4,45.42 369.4,44.97 370.4,44.17 371.4,43.67 372.4,44.20 373.4,43.37 374.4,42.87 375.4,43.32 376.4,42.26 377.4,42.80 378.4,42.25 379.4,42.31 380.4,42.32 381.4,42.89 382.4,43.08 383.4,43.14 384.4,43.47 385.4,43.39 386.4,43.75 387.4,43.92 388.4,44.55 389.4,44.22 390.4,44.71 391.4,45.41 392.4,45.41 393.4,45.97 394.4,46.91 395.4,47.82 396.4,48.17 397.4,49.15 398.4,49.70 399.4,49.92 400.4,50.75 401.4,50.90 402.4,51.32 403.4,52.27 404.4,52.13 405.4,53.12 406.4,52.91 407.4,53.27 408.4,53.80 409.4,54.32 410.4,54.30 411.4,54.54 412.4,54.48 413.4,54.88 414.4,54.76 415.4,54.82 416.4,54.95 417.4,54.99 418.4,55.17 419.4,55.06 420.4,55.20 421.4,55.18 422.4,55.31 423.4,55.37 424.4,55.41 425.4,55.43 426.4,55.45 427.4,55.46 428.4,55.47 429.4,55.49 430.4,55.51 431.4,55.53 432.4,55.55 433.4,55.57 434.4,55.59 435.4,55.61 436.4,55.63 437.4,55.65 438.4,55.67 439.4,55.69 440.0,55.70" fill="none" stroke="#a66ae6" stroke-width="1.1" stroke-linejoin="round" opacity="0.9"/>
<line x1="440.0" y1="55.70" x2="479.0" y2="55.70" stroke="#a66ae6" stroke-width="0.8" opacity="0.45"/>
<path d="M297.4,72.88 L297.4,67.16 298.4,67.87 299.4,67.20 300.4,67.01 301.4,67.83 302.4,67.50 303.4,67.06 304.4,67.61 305.4,66.83 306.4,67.40 307.4,66.82 308.4,67.45 309.4,67.04 310.4,66.58 311.4,67.25 312.4,67.15 313.4,66.86 314.4,67.00 315.4,67.24 316.4,67.05 317.4,67.03 318.4,66.21 319.4,66.42 320.4,66.16 321.4,66.85 322.4,66.19 323.4,66.81 324.4,66.36 325.4,66.21 326.4,66.44 327.4,65.88 328.4,66.15 329.4,66.08 330.4,65.73 331.4,66.46 332.4,65.52 333.4,65.84 334.4,66.03 335.4,65.58 336.4,66.08 337.4,65.33 338.4,65.71 339.4,65.90 340.4,65.46 341.4,65.75 342.4,65.98 343.4,65.37 344.4,66.02 345.4,65.19 346.4,65.69 347.4,65.23 348.4,64.79 349.4,65.09 350.4,64.89 351.4,65.11 352.4,65.23 353.4,64.96 354.4,64.57 355.4,63.80 356.4,63.66 357.4,63.26 358.4,62.56 359.4,63.02 360.4,62.65 361.4,61.98 362.4,62.40 363.4,62.22 364.4,61.69 365.4,61.76 366.4,61.35 367.4,61.32 368.4,60.80 369.4,60.62 370.4,60.84 371.4,60.23 372.4,60.17 373.4,60.28 374.4,59.22 375.4,59.65 376.4,59.49 377.4,59.31 378.4,58.56 379.4,58.16 380.4,58.14 381.4,58.48 382.4,58.65 383.4,59.03 384.4,58.59 385.4,58.93 386.4,59.47 387.4,59.53 388.4,60.14 389.4,60.08 390.4,60.80 391.4,61.88 392.4,61.88 393.4,63.41 394.4,63.59 395.4,64.33 396.4,65.05 397.4,65.69 398.4,65.40 399.4,66.57 400.4,66.42 401.4,66.39 402.4,67.53 403.4,67.80 404.4,67.71 405.4,68.11 406.4,68.27 407.4,68.38 408.4,69.29 409.4,69.42 410.4,69.68 411.4,70.18 412.4,69.59 413.4,69.94 414.4,70.24 415.4,70.99 416.4,70.58 417.4,70.85 418.4,71.19 419.4,71.21 420.4,71.50 421.4,71.72 422.4,71.87 423.4,71.92 424.4,72.06 425.4,72.04 426.4,71.99 427.4,72.07 428.4,72.09 429.4,72.18 430.4,72.32 431.4,72.32 432.4,72.39 433.4,72.38 434.4,72.46 435.4,72.50 436.4,72.53 437.4,72.55 438.4,72.57 439.4,72.59 440.4,72.60 441.4,72.62 442.4,72.63 443.4,72.65 444.4,72.67 445.4,72.69 446.4,72.71 447.4,72.73 448.4,72.75 449.4,72.77 450.4,72.79 451.4,72.81 452.4,72.83 453.4,72.85 454.4,72.87 455.0,72.88 L455.0,72.88 Z" fill="#cccccc" stroke="none"/>
<polyline points="297.4,67.16 298.4,67.87 299.4,67.20 300.4,67.01 301.4,67.83 302.4,67.50 303.4,67.06 304.4,67.61 305.4,66.83 306.4,67.40 307.4,66.82 308.4,67.45 309.4,67.04 310.4,66.58 311.4,67.25 312.4,67.15 313.4,66.86 314.4,67.00 315.4,67.24 316.4,67.05 317.4,67.03 318.4,66.21 319.4,66.42 320.4,66.16 321.4,66.85 322.4,66.19 323.4,66.81 324.4,66.36 325.4,66.21 326.4,66.44 327.4,65.88 328.4,66.15 329.4,66.08 330.4,65.73 331.4,66.46 332.4,65.52 333.4,65.84 334.4,66.03 335.4,65.58 336.4,66.08 337.4,65.33 338.4,65.71 339.4,65.90 340.4,65.46 341.4,65.75 342.4,65.98 343.4,65.37 344.4,66.02 345.4,65.19 346.4,65.69 347.4,65.23 348.4,64.79 349.4,65.09 350.4,64.89 351.4,65.11 352.4,65.23 353.4,64.96 354.4,64.57 355.4,63.80 356.4,63.66 357.4,63.26 358.4,62.56 359.4,63.02 360.4,62.65 361.4,61.98 362.4,62.40 363.4,62.22 364.4,61.69 365.4,61.76 366.4,61.35 367.4,61.32 368.4,60.80 369.4,60.62 370.4,60.84 371.4,60.23 372.4,60.17 373.4,60.28 374.4,59.22 375.4,59.65 376.4,59.49 377.4,59.31 378.4,58.56 379.4,58.16 380.4,58.14 381.4,58.48 382.4,58.65 383.4,59.03 384.4,58.59 385.4,58.93 386.4,59.47 387.4,59.53 388.4,60.14 389.4,60.08 390.4,60.80 391.4,61.88 392.4,61.88 393.4,63.41 394.4,63.59 395.4,64.33 396.4,65.05 397.4,65.69 398.4,65.40 399.4,66.57 400.4,66.42 401.4,66.39 402.4,67.53 403.4,67.80 404.4,67.71 405.4,68.11 406.4,68.27 407.4,68.38 408.4,69.29 409.4,69.42 410.4,69.68 411.4,70.18 412.4,69.59 413.4,69.94 414.4,70.24 415.4,70.99 416.4,70.58 417.4,70.85 418.4,71.19 419.4,71.21 420.4,71.50 421.4,71.72 422.4,71.87 423.4,71.92 424.4,72.06 425.4,72.04 426.4,71.99 427.4,72.07 428.4,72.09 429.4,72.18 430.4,72.32 431.4,72.32 432.4,72.39 433.4,72.38 434.4,72.46 435.4,72.50 436.4,72.53 437.4,72.55 438.4,72.57 439.4,72.59 440.4,72.60 441.4,72.62 442.4,72.63 443.4,72.65 444.4,72.67 445.4,72.69 446.4,72.71 447.4,72.73 448.4,72.75 449.4,72.77 450.4,72.79 451.4,72.81 452.4,72.83 453.4,72.85 454.4,72.87 455.0,72.88" fill="none" stroke="#828282" stroke-width="1.1" stroke-linejoin="round" opacity="0.9"/>
<line x1="455.0" y1="72.88" x2="479.0" y2="72.88" stroke="#828282" stroke-width="0.8" opacity="0.45"/>
<path d="M297.4,90.06 L297.4,87.57 298.4,87.12 299.4,86.70 300.4,87.33 301.4,86.56 302.4,87.32 303.4,86.97 304.4,86.89 305.4,86.28 306.4,85.98 307.4,86.08 308.4,86.40 309.4,85.76 310.4,86.22 311.4,86.22 312.4,85.47 313.4,85.68 314.4,85.54 315.4,85.50 316.4,85.12 317.4,85.56 318.4,85.12 319.4,85.19 320.4,84.96 321.4,85.30 322.4,84.93 323.4,84.99 324.4,85.16 325.4,85.15 326.4,84.63 327.4,85.05 328.4,84.09 329.4,84.72 330.4,84.69 331.4,84.46 332.4,83.49 333.4,83.92 334.4,83.97 335.4,83.94 336.4,83.78 337.4,82.99 338.4,82.91 339.4,82.72 340.4,82.56 341.4,83.13 342.4,82.51 343.4,82.65 344.4,82.12 345.4,82.05 346.4,81.91 347.4,82.67 348.4,81.81 349.4,81.70 350.4,81.60 351.4,82.37 352.4,82.20 353.4,82.21 354.4,82.19 355.4,81.28 356.4,81.19 357.4,81.23 358.4,80.88 359.4,80.89 360.4,81.04 361.4,81.03 362.4,80.83 363.4,79.98 364.4,80.35 365.4,80.06 366.4,79.80 367.4,80.06 368.4,79.68 369.4,79.51 370.4,78.96 371.4,79.21 372.4,79.18 373.4,78.50 374.4,78.95 375.4,78.61 376.4,78.85 377.4,79.45 378.4,79.11 379.4,79.14 380.4,78.89 381.4,79.43 382.4,79.22 383.4,79.58 384.4,80.14 385.4,79.83 386.4,81.01 387.4,80.75 388.4,81.90 389.4,82.60 390.4,82.92 391.4,82.85 392.4,83.11 393.4,84.59 394.4,84.61 395.4,85.13 396.4,85.32 397.4,86.41 398.4,86.53 399.4,87.04 400.4,86.91 401.4,87.73 402.4,87.48 403.4,88.23 404.4,88.50 405.4,88.47 406.4,88.78 407.4,89.12 408.4,89.13 409.4,89.44 410.4,89.43 411.4,89.55 412.4,89.60 413.4,89.67 414.4,89.69 415.4,89.71 416.4,89.73 417.4,89.77 418.4,89.82 419.4,89.85 420.4,89.89 421.4,89.93 422.4,89.96 423.4,90.00 424.4,90.03 425.0,90.06 L425.0,90.06 Z" fill="#98be98" stroke="none"/>
<polyline points="297.4,87.57 298.4,87.12 299.4,86.70 300.4,87.33 301.4,86.56 302.4,87.32 303.4,86.97 304.4,86.89 305.4,86.28 306.4,85.98 307.4,86.08 308.4,86.40 309.4,85.76 310.4,86.22 311.4,86.22 312.4,85.47 313.4,85.68 314.4,85.54 315.4,85.50 316.4,85.12 317.4,85.56 318.4,85.12 319.4,85.19 320.4,84.96 321.4,85.30 322.4,84.93 323.4,84.99 324.4,85.16 325.4,85.15 326.4,84.63 327.4,85.05 328.4,84.09 329.4,84.72 330.4,84.69 331.4,84.46 332.4,83.49 333.4,83.92 334.4,83.97 335.4,83.94 336.4,83.78 337.4,82.99 338.4,82.91 339.4,82.72 340.4,82.56 341.4,83.13 342.4,82.51 343.4,82.65 344.4,82.12 345.4,82.05 346.4,81.91 347.4,82.67 348.4,81.81 349.4,81.70 350.4,81.60 351.4,82.37 352.4,82.20 353.4,82.21 354.4,82.19 355.4,81.28 356.4,81.19 357.4,81.23 358.4,80.88 359.4,80.89 360.4,81.04 361.4,81.03 362.4,80.83 363.4,79.98 364.4,80.35 365.4,80.06 366.4,79.80 367.4,80.06 368.4,79.68 369.4,79.51 370.4,78.96 371.4,79.21 372.4,79.18 373.4,78.50 374.4,78.95 375.4,78.61 376.4,78.85 377.4,79.45 378.4,79.11 379.4,79.14 380.4,78.89 381.4,79.43 382.4,79.22 383.4,79.58 384.4,80.14 385.4,79.83 386.4,81.01 387.4,80.75 388.4,81.90 389.4,82.60 390.4,82.92 391.4,82.85 392.4,83.11 393.4,84.59 394.4,84.61 395.4,85.13 396.4,85.32 397.4,86.41 398.4,86.53 399.4,87.04 400.4,86.91 401.4,87.73 402.4,87.48 403.4,88.23 404.4,88.50 405.4,88.47 406.4,88.78 407.4,89.12 408.4,89.13 409.4,89.44 410.4,89.43 411.4,89.55 412.4,89.60 413.4,89.67 414.4,89.69 415.4,89.71 416.4,89.73 417.4,89.77 418.4,89.82 419.4,89.85 420.4,89.89 421.4,89.93 422.4,89.96 423.4,90.00 424.4,90.03 425.0,90.06" fill="none" stroke="#3a7a3a" stroke-width="1.1" stroke-linejoin="round" opacity="0.9"/>
<line x1="425.0" y1="90.06" x2="479.0" y2="90.06" stroke="#3a7a3a" stroke-width="0.8" opacity="0.45"/>
<path d="M297.4,107.23 L297.4,104.31 298.4,104.43 299.4,104.25 300.4,104.11 301.4,103.47 302.4,104.13 303.4,103.18 304.4,103.90 305.4,103.58 306.4,103.38 307.4,102.60 308.4,102.87 309.4,102.87 310.4,102.24 311.4,102.77 312.4,102.43 313.4,102.25 314.4,101.92 315.4,101.81 316.4,101.81 317.4,102.01 318.4,101.93 319.4,102.00 320.4,101.22 321.4,101.30 322.4,101.12 323.4,101.59 324.4,101.21 325.4,100.77 326.4,100.86 327.4,101.20 328.4,100.76 329.4,100.22 330.4,100.76 331.4,100.70 332.4,100.48 333.4,99.96 334.4,99.71 335.4,100.29 336.4,100.18 337.4,99.97 338.4,99.78 339.4,99.47 340.4,99.72 341.4,99.44 342.4,99.45 343.4,98.54 344.4,98.66 345.4,99.16 346.4,98.17 347.4,98.90 348.4,98.49 349.4,97.77 350.4,97.83 351.4,97.77 352.4,97.96 353.4,98.09 354.4,97.54 355.4,97.98 356.4,97.79 357.4,97.52 358.4,97.78 359.4,97.32 360.4,96.83 361.4,96.83 362.4,96.94 363.4,96.72 364.4,96.82 365.4,97.08 366.4,96.57 367.4,96.74 368.4,96.40 369.4,96.24 370.4,96.75 371.4,96.67 372.4,96.60 373.4,97.09 374.4,97.50 375.4,97.25 376.4,97.37 377.4,97.78 378.4,98.17 379.4,98.34 380.4,98.82 381.4,99.16 382.4,99.65 383.4,100.11 384.4,100.13 385.4,101.01 386.4,101.04 387.4,101.02 388.4,101.43 389.4,101.84 390.4,102.53 391.4,102.63 392.4,102.85 393.4,102.93 394.4,103.38 395.4,103.34 396.4,103.30 397.4,104.26 398.4,103.98 399.4,104.06 400.4,104.61 401.4,104.69 402.4,104.46 403.4,105.34 404.4,105.10 405.4,105.49 406.4,105.21 407.4,105.24 408.4,105.59 409.4,105.90 410.4,105.75 411.4,105.85 412.4,105.85 413.4,106.02 414.4,106.04 415.4,106.04 416.4,106.22 417.4,106.32 418.4,106.22 419.4,106.49 420.4,106.43 421.4,106.56 422.4,106.52 423.4,106.70 424.4,106.57 425.4,106.73 426.4,106.81 427.4,106.80 428.4,106.81 429.4,106.89 430.4,106.86 431.4,106.90 432.4,106.93 433.4,106.97 434.4,107.01 435.4,107.05 436.4,107.09 437.4,107.13 438.4,107.17 439.4,107.21 440.0,107.23 L440.0,107.23 Z" fill="#cccccc" stroke="none"/>
<polyline points="297.4,104.31 298.4,104.43 299.4,104.25 300.4,104.11 301.4,103.47 302.4,104.13 303.4,103.18 304.4,103.90 305.4,103.58 306.4,103.38 307.4,102.60 308.4,102.87 309.4,102.87 310.4,102.24 311.4,102.77 312.4,102.43 313.4,102.25 314.4,101.92 315.4,101.81 316.4,101.81 317.4,102.01 318.4,101.93 319.4,102.00 320.4,101.22 321.4,101.30 322.4,101.12 323.4,101.59 324.4,101.21 325.4,100.77 326.4,100.86 327.4,101.20 328.4,100.76 329.4,100.22 330.4,100.76 331.4,100.70 332.4,100.48 333.4,99.96 334.4,99.71 335.4,100.29 336.4,100.18 337.4,99.97 338.4,99.78 339.4,99.47 340.4,99.72 341.4,99.44 342.4,99.45 343.4,98.54 344.4,98.66 345.4,99.16 346.4,98.17 347.4,98.90 348.4,98.49 349.4,97.77 350.4,97.83 351.4,97.77 352.4,97.96 353.4,98.09 354.4,97.54 355.4,97.98 356.4,97.79 357.4,97.52 358.4,97.78 359.4,97.32 360.4,96.83 361.4,96.83 362.4,96.94 363.4,96.72 364.4,96.82 365.4,97.08 366.4,96.57 367.4,96.74 368.4,96.40 369.4,96.24 370.4,96.75 371.4,96.67 372.4,96.60 373.4,97.09 374.4,97.50 375.4,97.25 376.4,97.37 377.4,97.78 378.4,98.17 379.4,98.34 380.4,98.82 381.4,99.16 382.4,99.65 383.4,100.11 384.4,100.13 385.4,101.01 386.4,101.04 387.4,101.02 388.4,101.43 389.4,101.84 390.4,102.53 391.4,102.63 392.4,102.85 393.4,102.93 394.4,103.38 395.4,103.34 396.4,103.30 397.4,104.26 398.4,103.98 399.4,104.06 400.4,104.61 401.4,104.69 402.4,104.46 403.4,105.34 404.4,105.10 405.4,105.49 406.4,105.21 407.4,105.24 408.4,105.59 409.4,105.90 410.4,105.75 411.4,105.85 412.4,105.85 413.4,106.02 414.4,106.04 415.4,106.04 416.4,106.22 417.4,106.32 418.4,106.22 419.4,106.49 420.4,106.43 421.4,106.56 422.4,106.52 423.4,106.70 424.4,106.57 425.4,106.73 426.4,106.81 427.4,106.80 428.4,106.81 429.4,106.89 430.4,106.86 431.4,106.90 432.4,106.93 433.4,106.97 434.4,107.01 435.4,107.05 436.4,107.09 437.4,107.13 438.4,107.17 439.4,107.21 440.0,107.23" fill="none" stroke="#828282" stroke-width="1.1" stroke-linejoin="round" opacity="0.9"/>
<line x1="440.0" y1="107.23" x2="479.0" y2="107.23" stroke="#828282" stroke-width="0.8" opacity="0.45"/>
<path d="M297.4,124.41 L297.4,118.39 298.4,118.41 299.4,118.15 300.4,118.52 301.4,118.62 302.4,118.68 303.4,118.17 304.4,117.99 305.4,118.43 306.4,118.76 307.4,118.20 308.4,118.64 309.4,118.86 310.4,118.99 311.4,118.39 312.4,118.43 313.4,118.68 314.4,118.93 315.4,118.93 316.4,119.35 317.4,118.71 318.4,119.41 319.4,119.21 320.4,119.10 321.4,119.17 322.4,119.58 323.4,119.79 324.4,119.56 325.4,119.99 326.4,119.26 327.4,119.71 328.4,119.16 329.4,119.68 330.4,119.50 331.4,119.54 332.4,119.28 333.4,119.42 334.4,119.50 335.4,118.67 336.4,119.00 337.4,118.93 338.4,118.76 339.4,118.47 340.4,118.42 341.4,118.12 342.4,118.00 343.4,118.20 344.4,117.54 345.4,117.51 346.4,118.21 347.4,117.34 348.4,117.16 349.4,117.18 350.4,117.71 351.4,116.90 352.4,116.98 353.4,117.47 354.4,117.33 355.4,116.25 356.4,116.39 357.4,116.63 358.4,116.58 359.4,116.34 360.4,116.03 361.4,115.27 362.4,115.47 363.4,115.44 364.4,114.46 365.4,114.36 366.4,114.78 367.4,113.86 368.4,113.97 369.4,113.64 370.4,113.59 371.4,113.21 372.4,113.16 373.4,112.96 374.4,113.45 375.4,112.81 376.4,112.84 377.4,112.50 378.4,112.69 379.4,112.14 380.4,112.37 381.4,112.58 382.4,112.55 383.4,112.59 384.4,112.21 385.4,112.65 386.4,112.30 387.4,112.73 388.4,112.52 389.4,112.71 390.4,112.90 391.4,112.86 392.4,114.04 393.4,113.58 394.4,114.38 395.4,114.74 396.4,115.11 397.4,115.42 398.4,116.38 399.4,116.81 400.4,116.73 401.4,118.04 402.4,117.87 403.4,118.25 404.4,119.23 405.4,119.01 406.4,119.29 407.4,119.38 408.4,120.31 409.4,119.96 410.4,120.71 411.4,120.99 412.4,120.80 413.4,121.87 414.4,121.37 415.4,121.63 416.4,122.03 417.4,121.74 418.4,122.25 419.4,122.29 420.4,122.37 421.4,122.33 422.4,122.79 423.4,122.77 424.4,122.90 425.4,122.97 426.4,123.00 427.4,123.36 428.4,123.32 429.4,123.60 430.4,123.71 431.4,123.88 432.4,123.96 433.4,124.07 434.4,124.16 435.4,124.24 436.4,124.30 437.4,124.33 438.4,124.36 439.4,124.37 440.4,124.38 441.4,124.38 442.4,124.39 443.4,124.39 444.4,124.40 445.0,124.41 L445.0,124.41 Z" fill="#ffb4ba" stroke="none"/>
<polyline points="297.4,118.39 298.4,118.41 299.4,118.15 300.4,118.52 301.4,118.62 302.4,118.68 303.4,118.17 304.4,117.99 305.4,118.43 306.4,118.76 307.4,118.20 308.4,118.64 309.4,118.86 310.4,118.99 311.4,118.39 312.4,118.43 313.4,118.68 314.4,118.93 315.4,118.93 316.4,119.35 317.4,118.71 318.4,119.41 319.4,119.21 320.4,119.10 321.4,119.17 322.4,119.58 323.4,119.79 324.4,119.56 325.4,119.99 326.4,119.26 327.4,119.71 328.4,119.16 329.4,119.68 330.4,119.50 331.4,119.54 332.4,119.28 333.4,119.42 334.4,119.50 335.4,118.67 336.4,119.00 337.4,118.93 338.4,118.76 339.4,118.47 340.4,118.42 341.4,118.12 342.4,118.00 343.4,118.20 344.4,117.54 345.4,117.51 346.4,118.21 347.4,117.34 348.4,117.16 349.4,117.18 350.4,117.71 351.4,116.90 352.4,116.98 353.4,117.47 354.4,117.33 355.4,116.25 356.4,116.39 357.4,116.63 358.4,116.58 359.4,116.34 360.4,116.03 361.4,115.27 362.4,115.47 363.4,115.44 364.4,114.46 365.4,114.36 366.4,114.78 367.4,113.86 368.4,113.97 369.4,113.64 370.4,113.59 371.4,113.21 372.4,113.16 373.4,112.96 374.4,113.45 375.4,112.81 376.4,112.84 377.4,112.50 378.4,112.69 379.4,112.14 380.4,112.37 381.4,112.58 382.4,112.55 383.4,112.59 384.4,112.21 385.4,112.65 386.4,112.30 387.4,112.73 388.4,112.52 389.4,112.71 390.4,112.90 391.4,112.86 392.4,114.04 393.4,113.58 394.4,114.38 395.4,114.74 396.4,115.11 397.4,115.42 398.4,116.38 399.4,116.81 400.4,116.73 401.4,118.04 402.4,117.87 403.4,118.25 404.4,119.23 405.4,119.01 406.4,119.29 407.4,119.38 408.4,120.31 409.4,119.96 410.4,120.71 411.4,120.99 412.4,120.80 413.4,121.87 414.4,121.37 415.4,121.63 416.4,122.03 417.4,121.74 418.4,122.25 419.4,122.29 420.4,122.37 421.4,122.33 422.4,122.79 423.4,122.77 424.4,122.90 425.4,122.97 426.4,123.00 427.4,123.36 428.4,123.32 429.4,123.60 430.4,123.71 431.4,123.88 432.4,123.96 433.4,124.07 434.4,124.16 435.4,124.24 436.4,124.30 437.4,124.33 438.4,124.36 439.4,124.37 440.4,124.38 441.4,124.38 442.4,124.39 443.4,124.39 444.4,124.40 445.0,124.41" fill="none" stroke="#e4606e" stroke-width="1.1" stroke-linejoin="round" opacity="0.9"/>
<line x1="445.0" y1="124.41" x2="479.0" y2="124.41" stroke="#e4606e" stroke-width="0.8" opacity="0.45"/>
<path d="M297.4,141.59 L297.4,136.41 298.4,136.74 299.4,136.60 300.4,137.07 301.4,137.09 302.4,137.12 303.4,136.85 304.4,136.81 305.4,136.67 306.4,137.43 307.4,136.76 308.4,136.61 309.4,136.95 310.4,137.46 311.4,137.21 312.4,137.51 313.4,137.32 314.4,136.59 315.4,136.89 316.4,136.83 317.4,136.68 318.4,136.54 319.4,136.81 320.4,136.77 321.4,136.72 322.4,136.61 323.4,136.66 324.4,136.53 325.4,136.94 326.4,136.43 327.4,136.58 328.4,136.21 329.4,136.81 330.4,136.66 331.4,136.74 332.4,135.93 333.4,135.71 334.4,135.90 335.4,136.10 336.4,135.57 337.4,135.53 338.4,135.67 339.4,135.89 340.4,135.76 341.4,135.55 342.4,135.57 343.4,135.37 344.4,135.08 345.4,134.70 346.4,135.49 347.4,134.89 348.4,135.32 349.4,135.13 350.4,134.33 351.4,134.46 352.4,133.99 353.4,134.34 354.4,134.65 355.4,134.15 356.4,133.81 357.4,133.32 358.4,133.14 359.4,133.49 360.4,133.38 361.4,133.49 362.4,132.74 363.4,132.97 364.4,132.82 365.4,132.76 366.4,132.60 367.4,131.77 368.4,132.21 369.4,131.27 370.4,132.07 371.4,131.23 372.4,131.92 373.4,132.00 374.4,131.29 375.4,131.78 376.4,131.33 377.4,131.94 378.4,132.17 379.4,131.57 380.4,131.80 381.4,131.87 382.4,132.25 383.4,133.16 384.4,132.91 385.4,133.13 386.4,133.67 387.4,133.50 388.4,134.45 389.4,134.00 390.4,134.50 391.4,135.47 392.4,135.72 393.4,135.35 394.4,135.44 395.4,136.42 396.4,136.44 397.4,136.25 398.4,137.04 399.4,136.55 400.4,137.12 401.4,137.74 402.4,137.62 403.4,137.60 404.4,137.92 405.4,137.85 406.4,138.55 407.4,138.06 408.4,138.64 409.4,138.51 410.4,138.67 411.4,138.99 412.4,139.13 413.4,138.91 414.4,138.90 415.4,139.13 416.4,139.38 417.4,139.66 418.4,139.88 419.4,139.36 420.4,139.61 421.4,139.61 422.4,139.96 423.4,139.87 424.4,139.74 425.4,139.89 426.4,140.08 427.4,140.28 428.4,140.29 429.4,140.15 430.4,140.42 431.4,140.35 432.4,140.43 433.4,140.37 434.4,140.45 435.4,140.68 436.4,140.81 437.4,140.78 438.4,140.78 439.4,140.78 440.4,140.78 441.4,140.81 442.4,141.05 443.4,140.93 444.4,140.99 445.4,141.03 446.4,141.13 447.4,141.21 448.4,141.22 449.4,141.26 450.4,141.30 451.4,141.34 452.4,141.37 453.4,141.41 454.4,141.43 455.4,141.46 456.4,141.49 457.4,141.52 458.4,141.54 459.4,141.57 460.0,141.59 L460.0,141.59 Z" fill="#cccccc" stroke="none"/>
<polyline points="297.4,136.41 298.4,136.74 299.4,136.60 300.4,137.07 301.4,137.09 302.4,137.12 303.4,136.85 304.4,136.81 305.4,136.67 306.4,137.43 307.4,136.76 308.4,136.61 309.4,136.95 310.4,137.46 311.4,137.21 312.4,137.51 313.4,137.32 314.4,136.59 315.4,136.89 316.4,136.83 317.4,136.68 318.4,136.54 319.4,136.81 320.4,136.77 321.4,136.72 322.4,136.61 323.4,136.66 324.4,136.53 325.4,136.94 326.4,136.43 327.4,136.58 328.4,136.21 329.4,136.81 330.4,136.66 331.4,136.74 332.4,135.93 333.4,135.71 334.4,135.90 335.4,136.10 336.4,135.57 337.4,135.53 338.4,135.67 339.4,135.89 340.4,135.76 341.4,135.55 342.4,135.57 343.4,135.37 344.4,135.08 345.4,134.70 346.4,135.49 347.4,134.89 348.4,135.32 349.4,135.13 350.4,134.33 351.4,134.46 352.4,133.99 353.4,134.34 354.4,134.65 355.4,134.15 356.4,133.81 357.4,133.32 358.4,133.14 359.4,133.49 360.4,133.38 361.4,133.49 362.4,132.74 363.4,132.97 364.4,132.82 365.4,132.76 366.4,132.60 367.4,131.77 368.4,132.21 369.4,131.27 370.4,132.07 371.4,131.23 372.4,131.92 373.4,132.00 374.4,131.29 375.4,131.78 376.4,131.33 377.4,131.94 378.4,132.17 379.4,131.57 380.4,131.80 381.4,131.87 382.4,132.25 383.4,133.16 384.4,132.91 385.4,133.13 386.4,133.67 387.4,133.50 388.4,134.45 389.4,134.00 390.4,134.50 391.4,135.47 392.4,135.72 393.4,135.35 394.4,135.44 395.4,136.42 396.4,136.44 397.4,136.25 398.4,137.04 399.4,136.55 400.4,137.12 401.4,137.74 402.4,137.62 403.4,137.60 404.4,137.92 405.4,137.85 406.4,138.55 407.4,138.06 408.4,138.64 409.4,138.51 410.4,138.67 411.4,138.99 412.4,139.13 413.4,138.91 414.4,138.90 415.4,139.13 416.4,139.38 417.4,139.66 418.4,139.88 419.4,139.36 420.4,139.61 421.4,139.61 422.4,139.96 423.4,139.87 424.4,139.74 425.4,139.89 426.4,140.08 427.4,140.28 428.4,140.29 429.4,140.15 430.4,140.42 431.4,140.35 432.4,140.43 433.4,140.37 434.4,140.45 435.4,140.68 436.4,140.81 437.4,140.78 438.4,140.78 439.4,140.78 440.4,140.78 441.4,140.81 442.4,141.05 443.4,140.93 444.4,140.99 445.4,141.03 446.4,141.13 447.4,141.21 448.4,141.22 449.4,141.26 450.4,141.30 451.4,141.34 452.4,141.37 453.4,141.41 454.4,141.43 455.4,141.46 456.4,141.49 457.4,141.52 458.4,141.54 459.4,141.57 460.0,141.59" fill="none" stroke="#828282" stroke-width="1.1" stroke-linejoin="round" opacity="0.9"/>
<line x1="460.0" y1="141.59" x2="479.0" y2="141.59" stroke="#828282" stroke-width="0.8" opacity="0.45"/>
<path d="M297.4,158.77 L297.4,154.62 298.4,154.54 299.4,154.53 300.4,154.18 301.4,154.62 302.4,154.75 303.4,154.16 304.4,153.79 305.4,154.26 306.4,153.59 307.4,153.28 308.4,153.86 309.4,153.37 310.4,153.18 311.4,153.27 312.4,153.42 313.4,153.26 314.4,152.65 315.4,152.50 316.4,152.72 317.4,152.98 318.4,152.15 319.4,152.07 320.4,152.50 321.4,152.05 322.4,151.62 323.4,151.52 324.4,151.77 325.4,151.70 326.4,151.47 327.4,151.76 328.4,151.64 329.4,151.54 330.4,150.91 331.4,151.13 332.4,150.81 333.4,150.86 334.4,150.63 335.4,150.88 336.4,150.87 337.4,149.79 338.4,150.29 339.4,150.44 340.4,149.78 341.4,149.50 342.4,150.01 343.4,149.44 344.4,149.57 345.4,149.28 346.4,149.65 347.4,149.51 348.4,148.43 349.4,148.42 350.4,148.67 351.4,148.44 352.4,148.60 353.4,147.93 354.4,148.12 355.4,147.43 356.4,147.43 357.4,147.18 358.4,146.83 359.4,147.32 360.4,147.31 361.4,146.91 362.4,146.68 363.4,146.53 364.4,146.32 365.4,145.56 366.4,144.99 367.4,145.15 368.4,144.42 369.4,144.20 370.4,144.77 371.4,143.95 372.4,143.84 373.4,143.81 374.4,142.68 375.4,143.10 376.4,142.55 377.4,142.26 378.4,141.78 379.4,141.97 380.4,142.26 381.4,142.35 382.4,142.90 383.4,142.50 384.4,143.00 385.4,144.41 386.4,145.32 387.4,145.88 388.4,146.60 389.4,146.88 390.4,147.68 391.4,148.51 392.4,150.03 393.4,150.03 394.4,150.85 395.4,151.64 396.4,152.00 397.4,153.58 398.4,154.07 399.4,153.96 400.4,154.21 401.4,154.86 402.4,155.61 403.4,155.64 404.4,155.80 405.4,156.63 406.4,156.68 407.4,156.94 408.4,157.20 409.4,157.16 410.4,157.46 411.4,157.54 412.4,157.67 413.4,157.54 414.4,157.84 415.4,157.64 416.4,157.85 417.4,157.93 418.4,157.67 419.4,157.93 420.4,157.75 421.4,157.82 422.4,157.88 423.4,158.13 424.4,158.13 425.4,158.26 426.4,158.18 427.4,158.27 428.4,158.38 429.4,158.44 430.4,158.48 431.4,158.52 432.4,158.56 433.4,158.59 434.4,158.62 435.4,158.65 436.4,158.67 437.4,158.70 438.4,158.72 439.4,158.75 440.0,158.77 L440.0,158.77 Z" fill="#fdca97" stroke="none"/>
<polyline points="297.4,154.62 298.4,154.54 299.4,154.53 300.4,154.18 301.4,154.62 302.4,154.75 303.4,154.16 304.4,153.79 305.4,154.26 306.4,153.59 307.4,153.28 308.4,153.86 309.4,153.37 310.4,153.18 311.4,153.27 312.4,153.42 313.4,153.26 314.4,152.65 315.4,152.50 316.4,152.72 317.4,152.98 318.4,152.15 319.4,152.07 320.4,152.50 321.4,152.05 322.4,151.62 323.4,151.52 324.4,151.77 325.4,151.70 326.4,151.47 327.4,151.76 328.4,151.64 329.4,151.54 330.4,150.91 331.4,151.13 332.4,150.81 333.4,150.86 334.4,150.63 335.4,150.88 336.4,150.87 337.4,149.79 338.4,150.29 339.4,150.44 340.4,149.78 341.4,149.50 342.4,150.01 343.4,149.44 344.4,149.57 345.4,149.28 346.4,149.65 347.4,149.51 348.4,148.43 349.4,148.42 350.4,148.67 351.4,148.44 352.4,148.60 353.4,147.93 354.4,148.12 355.4,147.43 356.4,147.43 357.4,147.18 358.4,146.83 359.4,147.32 360.4,147.31 361.4,146.91 362.4,146.68 363.4,146.53 364.4,146.32 365.4,145.56 366.4,144.99 367.4,145.15 368.4,144.42 369.4,144.20 370.4,144.77 371.4,143.95 372.4,143.84 373.4,143.81 374.4,142.68 375.4,143.10 376.4,142.55 377.4,142.26 378.4,141.78 379.4,141.97 380.4,142.26 381.4,142.35 382.4,142.90 383.4,142.50 384.4,143.00 385.4,144.41 386.4,145.32 387.4,145.88 388.4,146.60 389.4,146.88 390.4,147.68 391.4,148.51 392.4,150.03 393.4,150.03 394.4,150.85 395.4,151.64 396.4,152.00 397.4,153.58 398.4,154.07 399.4,153.96 400.4,154.21 401.4,154.86 402.4,155.61 403.4,155.64 404.4,155.80 405.4,156.63 406.4,156.68 407.4,156.94 408.4,157.20 409.4,157.16 410.4,157.46 411.4,157.54 412.4,157.67 413.4,157.54 414.4,157.84 415.4,157.64 416.4,157.85 417.4,157.93 418.4,157.67 419.4,157.93 420.4,157.75 421.4,157.82 422.4,157.88 423.4,158.13 424.4,158.13 425.4,158.26 426.4,158.18 427.4,158.27 428.4,158.38 429.4,158.44 430.4,158.48 431.4,158.52 432.4,158.56 433.4,158.59 434.4,158.62 435.4,158.65 436.4,158.67 437.4,158.70 438.4,158.72 439.4,158.75 440.0,158.77" fill="none" stroke="#e39a48" stroke-width="1.1" stroke-linejoin="round" opacity="0.9"/>
<line x1="440.0" y1="158.77" x2="479.0" y2="158.77" stroke="#e39a48" stroke-width="0.8" opacity="0.45"/>
<path d="M297.4,175.94 L297.4,170.02 298.4,170.14 299.4,170.20 300.4,169.66 301.4,169.95 302.4,169.74 303.4,170.17 304.4,170.04 305.4,170.15 306.4,169.44 307.4,169.55 308.4,169.90 309.4,169.12 310.4,169.67 311.4,169.48 312.4,169.69 313.4,169.53 314.4,168.93 315.4,169.40 316.4,169.53 317.4,169.16 318.4,169.30 319.4,168.67 320.4,169.41 321.4,168.49 322.4,169.35 323.4,168.44 324.4,168.58 325.4,168.94 326.4,168.57 327.4,168.64 328.4,168.54 329.4,168.46 330.4,168.14 331.4,167.36 332.4,167.19 333.4,167.10 334.4,167.76 335.4,167.41 336.4,166.63 337.4,167.31 338.4,166.48 339.4,166.76 340.4,165.92 341.4,166.75 342.4,165.82 343.4,166.16 344.4,166.23 345.4,166.25 346.4,165.30 347.4,165.48 348.4,165.70 349.4,165.33 350.4,164.73 351.4,165.30 352.4,164.81 353.4,165.10 354.4,164.92 355.4,164.17 356.4,164.07 357.4,164.41 358.4,164.35 359.4,164.15 360.4,163.44 361.4,163.36 362.4,163.37 363.4,163.23 364.4,162.61 365.4,162.30 366.4,161.98 367.4,161.98 368.4,162.13 369.4,162.02 370.4,160.99 371.4,160.90 372.4,160.19 373.4,160.54 374.4,159.62 375.4,160.14 376.4,159.82 377.4,160.08 378.4,160.82 379.4,161.72 380.4,161.30 381.4,162.23 382.4,162.35 383.4,163.48 384.4,164.06 385.4,163.97 386.4,165.04 387.4,165.88 388.4,166.31 389.4,166.72 390.4,167.92 391.4,167.97 392.4,168.56 393.4,169.01 394.4,169.91 395.4,169.82 396.4,170.21 397.4,170.63 398.4,171.62 399.4,171.65 400.4,172.36 401.4,172.34 402.4,173.33 403.4,172.82 404.4,173.04 405.4,173.65 406.4,173.84 407.4,174.02 408.4,174.20 409.4,174.63 410.4,174.30 411.4,174.78 412.4,174.91 413.4,175.04 414.4,175.10 415.4,175.04 416.4,175.33 417.4,175.38 418.4,175.31 419.4,175.45 420.4,175.52 421.4,175.45 422.4,175.49 423.4,175.52 424.4,175.55 425.4,175.58 426.4,175.61 427.4,175.65 428.4,175.69 429.4,175.73 430.4,175.77 431.4,175.81 432.4,175.85 433.4,175.88 434.4,175.92 435.0,175.94 L435.0,175.94 Z" fill="#cccccc" stroke="none"/>
<polyline points="297.4,170.02 298.4,170.14 299.4,170.20 300.4,169.66 301.4,169.95 302.4,169.74 303.4,170.17 304.4,170.04 305.4,170.15 306.4,169.44 307.4,169.55 308.4,169.90 309.4,169.12 310.4,169.67 311.4,169.48 312.4,169.69 313.4,169.53 314.4,168.93 315.4,169.40 316.4,169.53 317.4,169.16 318.4,169.30 319.4,168.67 320.4,169.41 321.4,168.49 322.4,169.35 323.4,168.44 324.4,168.58 325.4,168.94 326.4,168.57 327.4,168.64 328.4,168.54 329.4,168.46 330.4,168.14 331.4,167.36 332.4,167.19 333.4,167.10 334.4,167.76 335.4,167.41 336.4,166.63 337.4,167.31 338.4,166.48 339.4,166.76 340.4,165.92 341.4,166.75 342.4,165.82 343.4,166.16 344.4,166.23 345.4,166.25 346.4,165.30 347.4,165.48 348.4,165.70 349.4,165.33 350.4,164.73 351.4,165.30 352.4,164.81 353.4,165.10 354.4,164.92 355.4,164.17 356.4,164.07 357.4,164.41 358.4,164.35 359.4,164.15 360.4,163.44 361.4,163.36 362.4,163.37 363.4,163.23 364.4,162.61 365.4,162.30 366.4,161.98 367.4,161.98 368.4,162.13 369.4,162.02 370.4,160.99 371.4,160.90 372.4,160.19 373.4,160.54 374.4,159.62 375.4,160.14 376.4,159.82 377.4,160.08 378.4,160.82 379.4,161.72 380.4,161.30 381.4,162.23 382.4,162.35 383.4,163.48 384.4,164.06 385.4,163.97 386.4,165.04 387.4,165.88 388.4,166.31 389.4,166.72 390.4,167.92 391.4,167.97 392.4,168.56 393.4,169.01 394.4,169.91 395.4,169.82 396.4,170.21 397.4,170.63 398.4,171.62 399.4,171.65 400.4,172.36 401.4,172.34 402.4,173.33 403.4,172.82 404.4,173.04 405.4,173.65 406.4,173.84 407.4,174.02 408.4,174.20 409.4,174.63 410.4,174.30 411.4,174.78 412.4,174.91 413.4,175.04 414.4,175.10 415.4,175.04 416.4,175.33 417.4,175.38 418.4,175.31 419.4,175.45 420.4,175.52 421.4,175.45 422.4,175.49 423.4,175.52 424.4,175.55 425.4,175.58 426.4,175.61 427.4,175.65 428.4,175.69 429.4,175.73 430.4,175.77 431.4,175.81 432.4,175.85 433.4,175.88 434.4,175.92 435.0,175.94" fill="none" stroke="#828282" stroke-width="1.1" stroke-linejoin="round" opacity="0.9"/>
<line x1="435.0" y1="175.94" x2="479.0" y2="175.94" stroke="#828282" stroke-width="0.8" opacity="0.45"/>
<path d="M297.4,193.12 L297.4,190.99 298.4,191.34 299.4,190.77 300.4,190.83 301.4,191.27 302.4,191.18 303.4,190.87 304.4,190.82 305.4,190.95 306.4,191.02 307.4,190.74 308.4,190.89 309.4,190.43 310.4,190.09 311.4,190.64 312.4,190.12 313.4,189.82 314.4,190.26 315.4,189.46 316.4,189.21 317.4,189.61 318.4,189.42 319.4,188.85 320.4,189.01 321.4,188.99 322.4,188.30 323.4,188.32 324.4,188.63 325.4,188.59 326.4,188.38 327.4,188.16 328.4,187.50 329.4,187.57 330.4,187.35 331.4,187.34 332.4,187.20 333.4,187.89 334.4,187.32 335.4,186.78 336.4,186.69 337.4,187.27 338.4,186.99 339.4,186.66 340.4,186.81 341.4,186.52 342.4,186.85 343.4,186.36 344.4,186.16 345.4,186.51 346.4,186.26 347.4,185.30 348.4,185.36 349.4,185.06 350.4,185.22 351.4,184.90 352.4,184.68 353.4,184.54 354.4,185.24 355.4,184.47 356.4,184.69 357.4,184.12 358.4,184.36 359.4,183.93 360.4,183.38 361.4,183.51 362.4,183.70 363.4,183.25 364.4,183.16 365.4,182.45 366.4,182.92 367.4,182.70 368.4,182.16 369.4,182.47 370.4,181.75 371.4,181.12 372.4,181.28 373.4,181.24 374.4,180.75 375.4,180.41 376.4,180.55 377.4,180.36 378.4,180.17 379.4,179.88 380.4,179.69 381.4,179.79 382.4,179.89 383.4,180.16 384.4,179.91 385.4,179.92 386.4,180.57 387.4,181.14 388.4,181.67 389.4,182.78 390.4,182.95 391.4,183.87 392.4,184.43 393.4,185.05 394.4,185.90 395.4,186.77 396.4,187.55 397.4,188.24 398.4,188.59 399.4,189.29 400.4,189.63 401.4,190.70 402.4,190.84 403.4,190.94 404.4,191.72 405.4,191.93 406.4,192.27 407.4,192.56 408.4,192.60 409.4,192.76 410.4,192.80 411.4,192.80 412.4,192.79 413.4,192.79 414.4,192.81 415.4,192.87 416.4,192.92 417.4,192.98 418.4,193.03 419.4,193.09 420.0,193.12 L420.0,193.12 Z" fill="#9bcaf8" stroke="none"/>
<polyline points="297.4,190.99 298.4,191.34 299.4,190.77 300.4,190.83 301.4,191.27 302.4,191.18 303.4,190.87 304.4,190.82 305.4,190.95 306.4,191.02 307.4,190.74 308.4,190.89 309.4,190.43 310.4,190.09 311.4,190.64 312.4,190.12 313.4,189.82 314.4,190.26 315.4,189.46 316.4,189.21 317.4,189.61 318.4,189.42 319.4,188.85 320.4,189.01 321.4,188.99 322.4,188.30 323.4,188.32 324.4,188.63 325.4,188.59 326.4,188.38 327.4,188.16 328.4,187.50 329.4,187.57 330.4,187.35 331.4,187.34 332.4,187.20 333.4,187.89 334.4,187.32 335.4,186.78 336.4,186.69 337.4,187.27 338.4,186.99 339.4,186.66 340.4,186.81 341.4,186.52 342.4,186.85 343.4,186.36 344.4,186.16 345.4,186.51 346.4,186.26 347.4,185.30 348.4,185.36 349.4,185.06 350.4,185.22 351.4,184.90 352.4,184.68 353.4,184.54 354.4,185.24 355.4,184.47 356.4,184.69 357.4,184.12 358.4,184.36 359.4,183.93 360.4,183.38 361.4,183.51 362.4,183.70 363.4,183.25 364.4,183.16 365.4,182.45 366.4,182.92 367.4,182.70 368.4,182.16 369.4,182.47 370.4,181.75 371.4,181.12 372.4,181.28 373.4,181.24 374.4,180.75 375.4,180.41 376.4,180.55 377.4,180.36 378.4,180.17 379.4,179.88 380.4,179.69 381.4,179.79 382.4,179.89 383.4,180.16 384.4,179.91 385.4,179.92 386.4,180.57 387.4,181.14 388.4,181.67 389.4,182.78 390.4,182.95 391.4,183.87 392.4,184.43 393.4,185.05 394.4,185.90 395.4,186.77 396.4,187.55 397.4,188.24 398.4,188.59 399.4,189.29 400.4,189.63 401.4,190.70 402.4,190.84 403.4,190.94 404.4,191.72 405.4,191.93 406.4,192.27 407.4,192.56 408.4,192.60 409.4,192.76 410.4,192.80 411.4,192.80 412.4,192.79 413.4,192.79 414.4,192.81 415.4,192.87 416.4,192.92 417.4,192.98 418.4,193.03 419.4,193.09 420.0,193.12" fill="none" stroke="#3d86e0" stroke-width="1.1" stroke-linejoin="round" opacity="0.9"/>
<line x1="420.0" y1="193.12" x2="479.0" y2="193.12" stroke="#3d86e0" stroke-width="0.8" opacity="0.45"/>
<path d="M297.4,210.30 L297.4,207.20 298.4,206.67 299.4,207.23 300.4,207.26 301.4,206.40 302.4,206.78 303.4,207.10 304.4,206.72 305.4,206.61 306.4,206.26 307.4,206.83 308.4,206.66 309.4,205.87 310.4,206.04 311.4,206.57 312.4,206.33 313.4,206.25 314.4,205.87 315.4,205.88 316.4,205.59 317.4,205.56 318.4,205.80 319.4,205.52 320.4,205.46 321.4,205.38 322.4,205.61 323.4,205.24 324.4,205.26 325.4,205.00 326.4,205.73 327.4,204.93 328.4,205.74 329.4,204.92 330.4,205.04 331.4,205.07 332.4,204.54 333.4,204.87 334.4,204.96 335.4,204.52 336.4,204.37 337.4,204.56 338.4,204.71 339.4,204.56 340.4,204.48 341.4,204.13 342.4,204.47 343.4,204.28 344.4,204.02 345.4,204.10 346.4,204.06 347.4,203.49 348.4,203.32 349.4,203.56 350.4,203.50 351.4,203.64 352.4,203.40 353.4,203.42 354.4,202.86 355.4,202.71 356.4,203.05 357.4,202.05 358.4,202.47 359.4,201.75 360.4,201.55 361.4,201.21 362.4,201.75 363.4,201.30 364.4,200.59 365.4,201.27 366.4,201.01 367.4,200.23 368.4,200.00 369.4,199.27 370.4,199.12 371.4,199.09 372.4,198.43 373.4,198.80 374.4,198.79 375.4,198.66 376.4,199.04 377.4,199.19 378.4,199.11 379.4,199.54 380.4,199.16 381.4,199.68 382.4,200.10 383.4,200.82 384.4,200.86 385.4,201.20 386.4,201.46 387.4,201.91 388.4,202.09 389.4,202.51 390.4,203.49 391.4,204.03 392.4,204.32 393.4,204.39 394.4,205.43 395.4,205.62 396.4,205.70 397.4,206.69 398.4,206.88 399.4,206.54 400.4,207.00 401.4,207.60 402.4,208.18 403.4,207.81 404.4,208.17 405.4,208.28 406.4,208.36 407.4,208.56 408.4,208.91 409.4,209.13 410.4,209.15 411.4,209.14 412.4,209.21 413.4,209.38 414.4,209.44 415.4,209.35 416.4,209.43 417.4,209.56 418.4,209.46 419.4,209.60 420.4,209.78 421.4,209.74 422.4,209.71 423.4,209.83 424.4,209.80 425.4,209.93 426.4,209.91 427.4,209.92 428.4,209.95 429.4,209.98 430.4,210.01 431.4,210.05 432.4,210.08 433.4,210.11 434.4,210.14 435.4,210.17 436.4,210.20 437.4,210.22 438.4,210.25 439.4,210.28 440.0,210.30 L440.0,210.30 Z" fill="#cccccc" stroke="none"/>
<polyline points="297.4,207.20 298.4,206.67 299.4,207.23 300.4,207.26 301.4,206.40 302.4,206.78 303.4,207.10 304.4,206.72 305.4,206.61 306.4,206.26 307.4,206.83 308.4,206.66 309.4,205.87 310.4,206.04 311.4,206.57 312.4,206.33 313.4,206.25 314.4,205.87 315.4,205.88 316.4,205.59 317.4,205.56 318.4,205.80 319.4,205.52 320.4,205.46 321.4,205.38 322.4,205.61 323.4,205.24 324.4,205.26 325.4,205.00 326.4,205.73 327.4,204.93 328.4,205.74 329.4,204.92 330.4,205.04 331.4,205.07 332.4,204.54 333.4,204.87 334.4,204.96 335.4,204.52 336.4,204.37 337.4,204.56 338.4,204.71 339.4,204.56 340.4,204.48 341.4,204.13 342.4,204.47 343.4,204.28 344.4,204.02 345.4,204.10 346.4,204.06 347.4,203.49 348.4,203.32 349.4,203.56 350.4,203.50 351.4,203.64 352.4,203.40 353.4,203.42 354.4,202.86 355.4,202.71 356.4,203.05 357.4,202.05 358.4,202.47 359.4,201.75 360.4,201.55 361.4,201.21 362.4,201.75 363.4,201.30 364.4,200.59 365.4,201.27 366.4,201.01 367.4,200.23 368.4,200.00 369.4,199.27 370.4,199.12 371.4,199.09 372.4,198.43 373.4,198.80 374.4,198.79 375.4,198.66 376.4,199.04 377.4,199.19 378.4,199.11 379.4,199.54 380.4,199.16 381.4,199.68 382.4,200.10 383.4,200.82 384.4,200.86 385.4,201.20 386.4,201.46 387.4,201.91 388.4,202.09 389.4,202.51 390.4,203.49 391.4,204.03 392.4,204.32 393.4,204.39 394.4,205.43 395.4,205.62 396.4,205.70 397.4,206.69 398.4,206.88 399.4,206.54 400.4,207.00 401.4,207.60 402.4,208.18 403.4,207.81 404.4,208.17 405.4,208.28 406.4,208.36 407.4,208.56 408.4,208.91 409.4,209.13 410.4,209.15 411.4,209.14 412.4,209.21 413.4,209.38 414.4,209.44 415.4,209.35 416.4,209.43 417.4,209.56 418.4,209.46 419.4,209.60 420.4,209.78 421.4,209.74 422.4,209.71 423.4,209.83 424.4,209.80 425.4,209.93 426.4,209.91 427.4,209.92 428.4,209.95 429.4,209.98 430.4,210.01 431.4,210.05 432.4,210.08 433.4,210.11 434.4,210.14 435.4,210.17 436.4,210.20 437.4,210.22 438.4,210.25 439.4,210.28 440.0,210.30" fill="none" stroke="#828282" stroke-width="1.1" stroke-linejoin="round" opacity="0.9"/>
<line x1="440.0" y1="210.30" x2="479.0" y2="210.30" stroke="#828282" stroke-width="0.8" opacity="0.45"/>
<text x="476.8" y="55.0" text-anchor="end" font-family="Liberation Sans" font-size="10.5" fill="#2a2a2a" stroke="#2a2a2a" stroke-width="0.3">980</text>
<text x="476.8" y="73.2" text-anchor="end" font-family="Liberation Sans" font-size="10.5" fill="#2a2a2a" stroke="#2a2a2a" stroke-width="0.3">758</text>
<text x="476.8" y="89.8" text-anchor="end" font-family="Liberation Sans" font-size="10.5" fill="#2a2a2a" stroke="#2a2a2a" stroke-width="0.3">705</text>
<text x="476.8" y="106.7" text-anchor="end" font-family="Liberation Sans" font-size="10.5" fill="#2a2a2a" stroke="#2a2a2a" stroke-width="0.3">516</text>
<text x="476.8" y="123.3" text-anchor="end" font-family="Liberation Sans" font-size="10.5" fill="#2a2a2a" stroke="#2a2a2a" stroke-width="0.3">765</text>
<text x="476.8" y="140.6" text-anchor="end" font-family="Liberation Sans" font-size="10.5" fill="#2a2a2a" stroke="#2a2a2a" stroke-width="0.3">497</text>
<text x="476.8" y="157.3" text-anchor="end" font-family="Liberation Sans" font-size="10.5" fill="#2a2a2a" stroke="#2a2a2a" stroke-width="0.3">755</text>
<text x="476.8" y="174.1" text-anchor="end" font-family="Liberation Sans" font-size="10.5" fill="#2a2a2a" stroke="#2a2a2a" stroke-width="0.3">600</text>
<text x="476.8" y="190.7" text-anchor="end" font-family="Liberation Sans" font-size="10.5" fill="#2a2a2a" stroke="#2a2a2a" stroke-width="0.3">927</text>
<text x="476.8" y="208.0" text-anchor="end" font-family="Liberation Sans" font-size="10.5" fill="#2a2a2a" stroke="#2a2a2a" stroke-width="0.3">757</text>
<path d="M296.7,210.3 V21.2 H479.0 V210.3" fill="none" stroke="#7a7a7a" stroke-width="1.6"/>
<line x1="295.9" y1="210.3" x2="479.8" y2="210.3" stroke="#6a6a6a" stroke-width="1.3"/>
<line x1="296.9" y1="23.8" x2="296.9" y2="55.7" stroke="#a66ae6" stroke-width="1.2" opacity="0.8"/>
<line x1="296.9" y1="58.0" x2="296.9" y2="90.0" stroke="#3a7a3a" stroke-width="1.2" opacity="0.8"/>
<line x1="296.9" y1="90.6" x2="296.9" y2="124.3" stroke="#e4606e" stroke-width="1.2" opacity="0.8"/>
<line x1="296.9" y1="125.2" x2="296.9" y2="158.6" stroke="#e39a48" stroke-width="1.2" opacity="0.8"/>
<line x1="296.9" y1="179.0" x2="296.9" y2="193.0" stroke="#3d86e0" stroke-width="1.2" opacity="0.8"/>
<line x1="307.3" y1="210.9" x2="307.3" y2="215.7" stroke="#111" stroke-width="1.5"/>
<line x1="366.7" y1="210.9" x2="366.7" y2="215.7" stroke="#111" stroke-width="1.5"/>
<line x1="417.7" y1="210.9" x2="417.7" y2="215.7" stroke="#111" stroke-width="1.5"/>
<line x1="460.5" y1="210.9" x2="460.5" y2="215.7" stroke="#111" stroke-width="1.5"/>
<line x1="310.3" y1="210.9" x2="310.3" y2="213.9" stroke="#222" stroke-width="0.9"/>
<line x1="313.3" y1="210.9" x2="313.3" y2="213.9" stroke="#222" stroke-width="0.9"/>
<line x1="343.3" y1="210.9" x2="343.3" y2="213.9" stroke="#222" stroke-width="0.9"/>
<line x1="316.3" y1="210.9" x2="316.3" y2="213.9" stroke="#222" stroke-width="0.9"/>
<line x1="346.2" y1="210.9" x2="346.2" y2="213.9" stroke="#222" stroke-width="0.9"/>
<line x1="319.3" y1="210.9" x2="319.3" y2="213.9" stroke="#222" stroke-width="0.9"/>
<line x1="349.1" y1="210.9" x2="349.1" y2="213.9" stroke="#222" stroke-width="0.9"/>
<line x1="322.4" y1="210.9" x2="322.4" y2="213.9" stroke="#222" stroke-width="0.9"/>
<line x1="352.0" y1="210.9" x2="352.0" y2="213.9" stroke="#222" stroke-width="0.9"/>
<line x1="325.4" y1="210.9" x2="325.4" y2="213.9" stroke="#222" stroke-width="0.9"/>
<line x1="355.0" y1="210.9" x2="355.0" y2="213.9" stroke="#222" stroke-width="0.9"/>
<line x1="328.4" y1="210.9" x2="328.4" y2="213.9" stroke="#222" stroke-width="0.9"/>
<line x1="357.9" y1="210.9" x2="357.9" y2="213.9" stroke="#222" stroke-width="0.9"/>
<line x1="331.4" y1="210.9" x2="331.4" y2="213.9" stroke="#222" stroke-width="0.9"/>
<line x1="360.8" y1="210.9" x2="360.8" y2="213.9" stroke="#222" stroke-width="0.9"/>
<line x1="363.8" y1="210.9" x2="363.8" y2="213.9" stroke="#222" stroke-width="0.9"/>
<line x1="382.1" y1="210.9" x2="382.1" y2="213.9" stroke="#222" stroke-width="0.9"/>
<line x1="391.0" y1="210.9" x2="391.0" y2="213.9" stroke="#222" stroke-width="0.9"/>
<line x1="397.4" y1="210.9" x2="397.4" y2="213.9" stroke="#222" stroke-width="0.9"/>
<line x1="402.3" y1="210.9" x2="402.3" y2="213.9" stroke="#222" stroke-width="0.9"/>
<line x1="406.4" y1="210.9" x2="406.4" y2="213.9" stroke="#222" stroke-width="0.9"/>
<line x1="409.8" y1="210.9" x2="409.8" y2="213.9" stroke="#222" stroke-width="0.9"/>
<line x1="412.8" y1="210.9" x2="412.8" y2="213.9" stroke="#222" stroke-width="0.9"/>
<line x1="415.4" y1="210.9" x2="415.4" y2="213.9" stroke="#222" stroke-width="0.9"/>
<line x1="430.6" y1="210.9" x2="430.6" y2="213.9" stroke="#222" stroke-width="0.9"/>
<line x1="438.1" y1="210.9" x2="438.1" y2="213.9" stroke="#222" stroke-width="0.9"/>
<line x1="443.5" y1="210.9" x2="443.5" y2="213.9" stroke="#222" stroke-width="0.9"/>
<line x1="447.6" y1="210.9" x2="447.6" y2="213.9" stroke="#222" stroke-width="0.9"/>
<line x1="451.0" y1="210.9" x2="451.0" y2="213.9" stroke="#222" stroke-width="0.9"/>
<line x1="453.9" y1="210.9" x2="453.9" y2="213.9" stroke="#222" stroke-width="0.9"/>
<line x1="456.4" y1="210.9" x2="456.4" y2="213.9" stroke="#222" stroke-width="0.9"/>
<line x1="458.5" y1="210.9" x2="458.5" y2="213.9" stroke="#222" stroke-width="0.9"/>
<line x1="473.4" y1="210.9" x2="473.4" y2="213.9" stroke="#222" stroke-width="0.9"/>
<rect x="333.4" y="210.9" width="7.8" height="3.3" fill="#111"/>
<line x1="306.4" y1="224.6" x2="307.7" y2="224.6" stroke="#333" stroke-width="1.1"/>
<text x="308.1" y="227.0" font-family="Liberation Sans" font-weight="bold" font-size="8.3" fill="#333" textLength="7.4" lengthAdjust="spacingAndGlyphs">10</text>
<text x="315.4" y="222.7" font-family="Liberation Sans" font-weight="bold" font-size="7.7" fill="#333" textLength="4.2" lengthAdjust="spacingAndGlyphs">3</text>
<text x="338.6" y="227.0" font-family="Liberation Sans" font-weight="bold" font-size="8.3" fill="#333" textLength="4.6" lengthAdjust="spacingAndGlyphs">0</text>
<text x="418.2" y="227.0" font-family="Liberation Sans" font-weight="bold" font-size="8.3" fill="#333" textLength="6.9" lengthAdjust="spacingAndGlyphs">10</text>
<text x="425.4" y="222.7" font-family="Liberation Sans" font-weight="bold" font-size="7.7" fill="#333" textLength="4.2" lengthAdjust="spacingAndGlyphs">4</text>
<text x="460.7" y="227.0" font-family="Liberation Sans" font-weight="bold" font-size="8.3" fill="#333" textLength="7.3" lengthAdjust="spacingAndGlyphs">10</text>
<text x="467.8" y="222.7" font-family="Liberation Sans" font-weight="bold" font-size="7.7" fill="#333" textLength="4.0" lengthAdjust="spacingAndGlyphs">5</text>
<text x="336.5" y="245.2" font-family="Liberation Sans" font-weight="bold" font-size="12" fill="#111" textLength="104.3" lengthAdjust="spacingAndGlyphs">HLA Bw4 epitope</text>
<text x="3.8" y="289.8" font-family="Liberation Sans" font-weight="bold" font-size="19" fill="#000">B</text>
<text x="72.7" y="291.4" font-family="Liberation Sans" font-weight="bold" font-size="12.5" fill="#111" textLength="96.4" lengthAdjust="spacingAndGlyphs">2DL1 vs. 2DL2/3</text>
<line x1="67.0" y1="302.9" x2="67.0" y2="459.8" stroke="#000" stroke-width="2"/>
<line x1="66.0" y1="458.8" x2="177.1" y2="458.8" stroke="#000" stroke-width="2"/>
<line x1="60.2" y1="458.8" x2="67.0" y2="458.8" stroke="#000" stroke-width="2"/>
<text x="58.3" y="462.7" text-anchor="end" font-family="Liberation Sans" font-weight="bold" font-size="11.0" fill="#111">0</text>
<line x1="60.2" y1="427.8" x2="67.0" y2="427.8" stroke="#000" stroke-width="2"/>
<text x="58.3" y="431.7" text-anchor="end" font-family="Liberation Sans" font-weight="bold" font-size="11.0" fill="#111">10</text>
<line x1="60.2" y1="396.8" x2="67.0" y2="396.8" stroke="#000" stroke-width="2"/>
<text x="58.3" y="400.7" text-anchor="end" font-family="Liberation Sans" font-weight="bold" font-size="11.0" fill="#111">20</text>
<line x1="60.2" y1="365.9" x2="67.0" y2="365.9" stroke="#000" stroke-width="2"/>
<text x="58.3" y="369.8" text-anchor="end" font-family="Liberation Sans" font-weight="bold" font-size="11.0" fill="#111">30</text>
<line x1="60.2" y1="334.9" x2="67.0" y2="334.9" stroke="#000" stroke-width="2"/>
<text x="58.3" y="338.8" text-anchor="end" font-family="Liberation Sans" font-weight="bold" font-size="11.0" fill="#111">40</text>
<line x1="60.2" y1="303.9" x2="67.0" y2="303.9" stroke="#000" stroke-width="2"/>
<text x="58.3" y="307.8" text-anchor="end" font-family="Liberation Sans" font-weight="bold" font-size="11.0" fill="#111">50</text>
<text transform="translate(37.2,380.4) rotate(-90)" text-anchor="middle" font-family="Liberation Sans" font-weight="bold" font-size="12.0" fill="#111" textLength="131.2" lengthAdjust="spacingAndGlyphs">CD107a+ NK cells (%)</text>
<line x1="98.1" y1="458.8" x2="98.1" y2="465.3" stroke="#000" stroke-width="2"/>
<text x="97.6" y="477.7" text-anchor="middle" font-family="Liberation Sans" font-weight="bold" font-size="11.5" fill="#111" textLength="27.0" lengthAdjust="spacingAndGlyphs">2DL1</text>
<line x1="145.0" y1="458.8" x2="145.0" y2="465.3" stroke="#000" stroke-width="2"/>
<text x="143.2" y="477.7" text-anchor="middle" font-family="Liberation Sans" font-weight="bold" font-size="11.5" fill="#111" textLength="37.3" lengthAdjust="spacingAndGlyphs">2DL2/3</text>
<line x1="98.1" y1="450.5" x2="145.0" y2="411.4" stroke="#000" stroke-width="0.8"/>
<line x1="98.1" y1="451.5" x2="145.0" y2="421.5" stroke="#000" stroke-width="0.8"/>
<line x1="98.1" y1="453.0" x2="145.0" y2="424.2" stroke="#000" stroke-width="0.8"/>
<line x1="98.1" y1="454.0" x2="145.0" y2="426.2" stroke="#000" stroke-width="0.8"/>
<line x1="98.1" y1="455.0" x2="145.0" y2="431.4" stroke="#000" stroke-width="0.8"/>
<line x1="98.1" y1="457.5" x2="145.0" y2="436.1" stroke="#000" stroke-width="0.8"/>
<line x1="98.1" y1="452.5" x2="145.0" y2="423.0" stroke="#000" stroke-width="0.8"/>
<circle cx="98.1" cy="450.5" r="2.7" fill="#fff" stroke="#000" stroke-width="1.4"/>
<circle cx="145.0" cy="411.4" r="2.7" fill="#fff" stroke="#000" stroke-width="1.4"/>
<circle cx="98.1" cy="451.5" r="2.7" fill="#fff" stroke="#000" stroke-width="1.4"/>
<circle cx="145.0" cy="421.5" r="2.7" fill="#fff" stroke="#000" stroke-width="1.4"/>
<circle cx="98.1" cy="453.0" r="2.7" fill="#fff" stroke="#000" stroke-width="1.4"/>
<circle cx="145.0" cy="424.2" r="2.7" fill="#fff" stroke="#000" stroke-width="1.4"/>
<circle cx="98.1" cy="454.0" r="2.7" fill="#fff" stroke="#000" stroke-width="1.4"/>
<circle cx="145.0" cy="426.2" r="2.7" fill="#fff" stroke="#000" stroke-width="1.4"/>
<circle cx="98.1" cy="455.0" r="2.7" fill="#fff" stroke="#000" stroke-width="1.4"/>
<circle cx="145.0" cy="431.4" r="2.7" fill="#fff" stroke="#000" stroke-width="1.4"/>
<circle cx="98.1" cy="457.5" r="2.7" fill="#fff" stroke="#000" stroke-width="1.4"/>
<circle cx="145.0" cy="436.1" r="2.7" fill="#fff" stroke="#000" stroke-width="1.4"/>
<circle cx="98.1" cy="452.5" r="2.7" fill="#fff" stroke="#000" stroke-width="1.4"/>
<circle cx="145.0" cy="423.0" r="2.7" fill="#fff" stroke="#000" stroke-width="1.4"/>
<line x1="99.8" y1="381.2" x2="143.1" y2="381.2" stroke="#000" stroke-width="2"/>
<path d="M121.00,367.60 L121.00,374.20 M118.14,369.25 L123.86,372.55 M123.86,369.25 L118.14,372.55" stroke="#000" stroke-width="1.6" stroke-linecap="round"/>
<circle cx="121.0" cy="370.9" r="1.3" fill="#000"/>
<text x="262.9" y="291.4" font-family="Liberation Sans" font-weight="bold" font-size="12.5" fill="#111" textLength="84.0" lengthAdjust="spacingAndGlyphs">2DL1 vs. 3DL1</text>
<line x1="253.9" y1="302.9" x2="253.9" y2="459.7" stroke="#000" stroke-width="2"/>
<line x1="252.9" y1="458.7" x2="357.8" y2="458.7" stroke="#000" stroke-width="2"/>
<line x1="247.8" y1="458.7" x2="253.9" y2="458.7" stroke="#000" stroke-width="2"/>
<text x="244.6" y="462.6" text-anchor="end" font-family="Liberation Sans" font-weight="bold" font-size="11.0" fill="#111">0</text>
<line x1="247.8" y1="427.7" x2="253.9" y2="427.7" stroke="#000" stroke-width="2"/>
<text x="244.6" y="431.6" text-anchor="end" font-family="Liberation Sans" font-weight="bold" font-size="11.0" fill="#111">10</text>
<line x1="247.8" y1="396.8" x2="253.9" y2="396.8" stroke="#000" stroke-width="2"/>
<text x="244.6" y="400.7" text-anchor="end" font-family="Liberation Sans" font-weight="bold" font-size="11.0" fill="#111">20</text>
<line x1="247.8" y1="365.8" x2="253.9" y2="365.8" stroke="#000" stroke-width="2"/>
<text x="244.6" y="369.7" text-anchor="end" font-family="Liberation Sans" font-weight="bold" font-size="11.0" fill="#111">30</text>
<line x1="247.8" y1="334.9" x2="253.9" y2="334.9" stroke="#000" stroke-width="2"/>
<text x="244.6" y="338.8" text-anchor="end" font-family="Liberation Sans" font-weight="bold" font-size="11.0" fill="#111">40</text>
<line x1="247.8" y1="303.9" x2="253.9" y2="303.9" stroke="#000" stroke-width="2"/>
<text x="244.6" y="307.8" text-anchor="end" font-family="Liberation Sans" font-weight="bold" font-size="11.0" fill="#111">50</text>
<text transform="translate(224.6,380.4) rotate(-90)" text-anchor="middle" font-family="Liberation Sans" font-weight="bold" font-size="12.0" fill="#111" textLength="131.2" lengthAdjust="spacingAndGlyphs">CD107a+ NK cells (%)</text>
<line x1="283.2" y1="458.7" x2="283.2" y2="465.2" stroke="#000" stroke-width="2"/>
<text x="283.4" y="477.7" text-anchor="middle" font-family="Liberation Sans" font-weight="bold" font-size="11.5" fill="#111" textLength="27.0" lengthAdjust="spacingAndGlyphs">2DL1</text>
<line x1="327.7" y1="458.7" x2="327.7" y2="465.2" stroke="#000" stroke-width="2"/>
<text x="327.6" y="477.7" text-anchor="middle" font-family="Liberation Sans" font-weight="bold" font-size="11.5" fill="#111" textLength="27.0" lengthAdjust="spacingAndGlyphs">3DL1</text>
<line x1="283.2" y1="450.1" x2="327.7" y2="396.5" stroke="#000" stroke-width="1.4"/>
<line x1="283.2" y1="453.5" x2="327.7" y2="398.3" stroke="#000" stroke-width="1.4"/>
<line x1="283.2" y1="455.0" x2="327.7" y2="401.7" stroke="#000" stroke-width="1.4"/>
<line x1="283.2" y1="457.4" x2="327.7" y2="418.1" stroke="#000" stroke-width="1.4"/>
<line x1="283.2" y1="452.0" x2="327.7" y2="421.6" stroke="#000" stroke-width="1.4"/>
<circle cx="283.2" cy="450.1" r="2.7" fill="#fff" stroke="#000" stroke-width="1.4"/>
<circle cx="327.7" cy="396.5" r="2.7" fill="#fff" stroke="#000" stroke-width="1.4"/>
<circle cx="283.2" cy="453.5" r="2.7" fill="#fff" stroke="#000" stroke-width="1.4"/>
<circle cx="327.7" cy="398.3" r="2.7" fill="#fff" stroke="#000" stroke-width="1.4"/>
<circle cx="283.2" cy="455.0" r="2.7" fill="#fff" stroke="#000" stroke-width="1.4"/>
<circle cx="327.7" cy="401.7" r="2.7" fill="#fff" stroke="#000" stroke-width="1.4"/>
<circle cx="283.2" cy="457.4" r="2.7" fill="#fff" stroke="#000" stroke-width="1.4"/>
<circle cx="327.7" cy="418.1" r="2.7" fill="#fff" stroke="#000" stroke-width="1.4"/>
<circle cx="283.2" cy="452.0" r="2.7" fill="#fff" stroke="#000" stroke-width="1.4"/>
<circle cx="327.7" cy="421.6" r="2.7" fill="#fff" stroke="#000" stroke-width="1.4"/>
<line x1="285.3" y1="377.8" x2="327.7" y2="377.8" stroke="#000" stroke-width="2"/>
<path d="M305.80,365.40 L305.80,372.00 M302.94,367.05 L308.66,370.35 M308.66,367.05 L302.94,370.35" stroke="#000" stroke-width="1.6" stroke-linecap="round"/>
<circle cx="305.8" cy="368.7" r="1.3" fill="#000"/>
<text x="426.7" y="291.4" font-family="Liberation Sans" font-weight="bold" font-size="12.5" fill="#111" textLength="118.7" lengthAdjust="spacingAndGlyphs">Match vs. Mismatch</text>
<line x1="434.2" y1="302.9" x2="434.2" y2="461.4" stroke="#000" stroke-width="2"/>
<line x1="433.2" y1="460.4" x2="539.1" y2="460.4" stroke="#000" stroke-width="2"/>
<line x1="429.6" y1="460.4" x2="434.2" y2="460.4" stroke="#000" stroke-width="2"/>
<text x="427.2" y="464.3" text-anchor="end" font-family="Liberation Sans" font-weight="bold" font-size="11.3" fill="#111">0</text>
<line x1="429.6" y1="429.1" x2="434.2" y2="429.1" stroke="#000" stroke-width="2"/>
<text x="427.2" y="433.0" text-anchor="end" font-family="Liberation Sans" font-weight="bold" font-size="11.3" fill="#111">10</text>
<line x1="429.6" y1="397.8" x2="434.2" y2="397.8" stroke="#000" stroke-width="2"/>
<text x="427.2" y="401.7" text-anchor="end" font-family="Liberation Sans" font-weight="bold" font-size="11.3" fill="#111">20</text>
<line x1="429.6" y1="366.5" x2="434.2" y2="366.5" stroke="#000" stroke-width="2"/>
<text x="427.2" y="370.4" text-anchor="end" font-family="Liberation Sans" font-weight="bold" font-size="11.3" fill="#111">30</text>
<line x1="429.6" y1="335.2" x2="434.2" y2="335.2" stroke="#000" stroke-width="2"/>
<text x="427.2" y="339.1" text-anchor="end" font-family="Liberation Sans" font-weight="bold" font-size="11.3" fill="#111">40</text>
<line x1="429.6" y1="303.9" x2="434.2" y2="303.9" stroke="#000" stroke-width="2"/>
<text x="427.2" y="307.8" text-anchor="end" font-family="Liberation Sans" font-weight="bold" font-size="11.3" fill="#111">50</text>
<text transform="translate(406.6,381.7) rotate(-90)" text-anchor="middle" font-family="Liberation Sans" font-weight="bold" font-size="12.6" fill="#111" textLength="133.4" lengthAdjust="spacingAndGlyphs">CD107a+ NK cells (%)</text>
<line x1="459.9" y1="460.4" x2="459.9" y2="466.9" stroke="#000" stroke-width="2"/>
<text x="460.4" y="477.7" text-anchor="middle" font-family="Liberation Sans" font-weight="bold" font-size="11.5" fill="#111" textLength="8.6" lengthAdjust="spacingAndGlyphs">M</text>
<line x1="512.2" y1="460.4" x2="512.2" y2="466.9" stroke="#000" stroke-width="2"/>
<text x="512.6" y="477.7" text-anchor="middle" font-family="Liberation Sans" font-weight="bold" font-size="11.5" fill="#111" textLength="19.1" lengthAdjust="spacingAndGlyphs">MM</text>
<line x1="459.9" y1="451.5" x2="512.2" y2="411.8" stroke="#000" stroke-width="1.6"/>
<line x1="459.9" y1="452.5" x2="512.2" y2="422.0" stroke="#000" stroke-width="1.6"/>
<line x1="459.9" y1="453.5" x2="512.2" y2="423.3" stroke="#000" stroke-width="1.6"/>
<line x1="459.9" y1="455.4" x2="512.2" y2="424.8" stroke="#000" stroke-width="1.6"/>
<line x1="459.9" y1="456.0" x2="512.2" y2="431.5" stroke="#000" stroke-width="1.6"/>
<line x1="459.9" y1="458.8" x2="512.2" y2="436.7" stroke="#000" stroke-width="1.6"/>
<line x1="459.9" y1="454.0" x2="512.2" y2="426.0" stroke="#000" stroke-width="1.6"/>
<circle cx="459.9" cy="451.5" r="2.7" fill="#fff" stroke="#000" stroke-width="1.4"/>
<circle cx="512.2" cy="411.8" r="2.7" fill="#fff" stroke="#000" stroke-width="1.4"/>
<circle cx="459.9" cy="452.5" r="2.7" fill="#fff" stroke="#000" stroke-width="1.4"/>
<circle cx="512.2" cy="422.0" r="2.7" fill="#fff" stroke="#000" stroke-width="1.4"/>
<circle cx="459.9" cy="453.5" r="2.7" fill="#fff" stroke="#000" stroke-width="1.4"/>
<circle cx="512.2" cy="423.3" r="2.7" fill="#fff" stroke="#000" stroke-width="1.4"/>
<circle cx="459.9" cy="455.4" r="2.7" fill="#fff" stroke="#000" stroke-width="1.4"/>
<circle cx="512.2" cy="424.8" r="2.7" fill="#fff" stroke="#000" stroke-width="1.4"/>
<circle cx="459.9" cy="456.0" r="2.7" fill="#fff" stroke="#000" stroke-width="1.4"/>
<circle cx="512.2" cy="431.5" r="2.7" fill="#fff" stroke="#000" stroke-width="1.4"/>
<circle cx="459.9" cy="458.8" r="2.7" fill="#fff" stroke="#000" stroke-width="1.4"/>
<circle cx="512.2" cy="436.7" r="2.7" fill="#fff" stroke="#000" stroke-width="1.4"/>
<circle cx="459.9" cy="454.0" r="2.7" fill="#fff" stroke="#000" stroke-width="1.4"/>
<circle cx="512.2" cy="426.0" r="2.7" fill="#fff" stroke="#000" stroke-width="1.4"/>
<line x1="462.9" y1="377.4" x2="519.1" y2="377.4" stroke="#000" stroke-width="2"/>
<path d="M491.00,364.20 L491.00,370.80 M488.14,365.85 L493.86,369.15 M493.86,365.85 L488.14,369.15" stroke="#000" stroke-width="1.6" stroke-linecap="round"/>
<circle cx="491.0" cy="367.5" r="1.3" fill="#000"/>
</svg>
</body></html>
